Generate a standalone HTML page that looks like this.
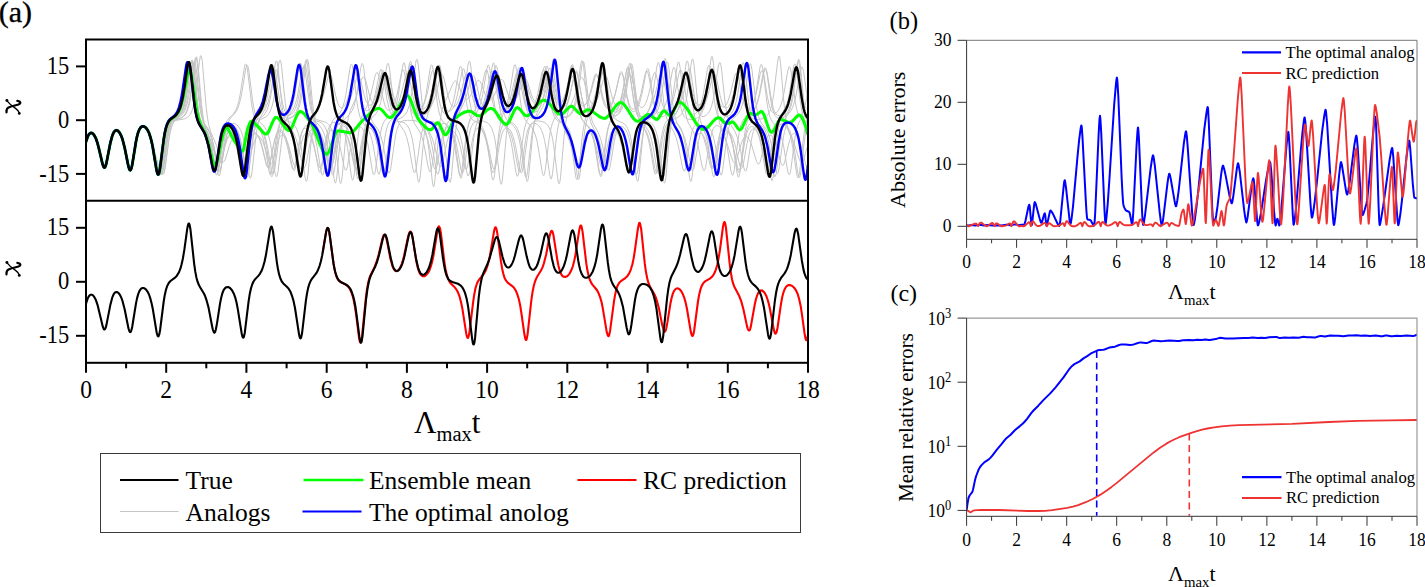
<!DOCTYPE html><html><head><meta charset="utf-8"><style>html,body{margin:0;padding:0;background:#fff;}svg{display:block;}text{font-family:"Liberation Serif",serif;fill:#000;}</style></head><body>
<svg width="1425" height="587" viewBox="0 0 1425 587">
<rect width="1425" height="587" fill="#fff"/>
<text x="-1.2" y="21.7" font-size="30" stroke="#000" stroke-width="0.35">(a)</text>
<defs><clipPath id="ct"><rect x="87" y="40.5" width="720" height="159"/></clipPath><clipPath id="cb"><rect x="87" y="201.4" width="720" height="160.4"/></clipPath></defs>
<g clip-path="url(#ct)" fill="none" stroke-linejoin="round">
<path d="M86.0,142.0 87.8,136.5 88.7,134.8 89.8,133.5 90.7,132.9 91.8,133.0 92.9,133.6 94.0,134.9 95.9,138.3 97.7,143.7 102.8,164.8 103.7,167.0 104.2,167.6 104.6,167.6 105.5,166.3 106.4,163.3 110.3,143.3 112.3,135.7 113.6,132.7 114.8,131.0 116.3,130.3 117.8,130.7 119.0,131.9 120.1,133.5 121.4,136.2 122.5,139.2 124.7,147.7 128.5,166.6 129.4,169.4 130.0,170.1 130.3,170.2 131.3,168.7 132.2,165.2 136.0,141.7 138.2,132.4 139.5,129.2 140.9,127.2 142.6,126.3 144.2,126.6 145.9,127.7 147.5,129.9 149.0,132.8 150.2,136.4 152.8,146.7 157.2,170.1 158.3,173.7 158.8,174.4 159.4,174.4 160.3,172.4 161.2,168.3 165.6,137.4 166.7,131.2 168.1,126.1 169.6,122.9 171.2,120.8 172.9,119.6 177.8,117.1 180.4,114.8 182.5,111.2 184.4,106.2 185.8,100.2 187.1,93.0 190.9,64.2 191.7,60.9 192.2,59.9 192.6,60.1 192.9,61.1 193.9,66.3 197.5,102.9 198.6,111.3 199.9,118.4 201.0,122.6 202.1,125.7 206.6,134.8 208.8,140.5 210.8,147.8 214.3,163.1 215.8,167.1 216.3,167.7 216.8,167.5 217.4,166.7 218.1,164.6 222.3,143.1 224.3,135.4 225.2,133.2 226.3,131.4 227.4,130.4 228.7,130.2 230.0,130.7 231.4,132.3 232.9,134.8 234.2,138.0 236.6,146.8 240.6,166.7 241.7,169.8 242.2,170.3 242.6,170.2 243.3,168.9 244.2,165.3 247.9,142.7 249.9,133.5 251.2,129.9 252.4,127.6 253.9,126.3 255.5,126.1 257.5,127.1 259.4,129.2 261.0,132.2 262.5,136.2 263.8,141.0 265.0,147.2 268.9,170.5 269.8,174.0 270.1,174.6 270.5,174.8 271.2,173.6 272.1,169.5 276.0,139.6 277.1,133.0 278.2,128.0 279.4,124.0 280.9,121.1 282.5,119.0 286.6,115.8 288.4,113.9 290.2,111.0 291.9,107.0 293.3,101.9 294.8,94.9 299.0,66.9 299.7,63.9 300.1,63.1 300.4,62.8 301.2,64.1 302.1,69.0 305.7,101.4 306.8,108.9 308.1,115.4 309.2,119.2 310.5,122.3 315.9,130.9 317.2,133.6 318.5,137.0 320.7,145.5 324.5,166.3 325.3,169.4 326.0,171.5 326.5,172.0 327.1,171.7 328.2,168.2 332.4,140.2 333.5,134.6 334.7,129.7 336.0,126.6 337.7,124.3 339.5,123.2 341.7,123.2 344.2,124.3 346.4,126.5 348.4,130.0 350.1,134.6 351.5,140.5 352.8,147.4 356.6,174.8 357.4,178.0 357.9,178.9 358.3,178.8 358.6,178.0 359.6,173.3 363.2,138.8 364.3,130.7 365.6,123.7 366.7,119.6 367.8,116.6 372.9,107.3 375.3,101.2 377.4,92.9 380.9,75.8 382.2,71.5 382.9,70.6 383.5,70.8 384.0,71.8 384.7,74.3 388.8,97.9 391.0,107.1 392.0,110.0 393.3,112.0 394.6,113.0 396.1,113.2 397.9,112.2 399.5,110.3 401.2,107.2 402.6,103.1 405.0,93.2 408.8,70.9 409.7,67.6 410.5,66.7 411.2,67.6 412.1,71.3 416.5,102.8 418.0,110.0 419.4,114.6 420.9,117.5 422.7,119.4 424.5,120.4 429.8,122.4 431.5,123.4 432.7,124.5 434.0,126.0 435.1,127.9 437.1,133.0 438.4,137.9 439.7,144.7 443.7,176.2 444.4,180.2 445.2,181.9 445.5,181.6 445.9,180.6 446.8,174.9 450.4,135.9 451.5,127.3 452.8,120.0 453.9,115.6 455.0,112.4 459.0,103.9 460.8,99.2 462.7,93.3 466.5,78.4 467.6,75.7 468.5,74.7 469.1,74.9 469.6,75.6 470.7,78.6 474.5,96.0 476.4,102.3 477.3,104.4 478.4,106.2 479.3,107.0 480.4,107.2 481.5,106.9 482.7,105.7 484.0,103.6 485.1,101.2 487.5,93.5 491.7,75.8 492.8,73.2 493.3,72.8 493.9,73.1 494.6,74.4 495.5,77.6 499.2,96.6 501.0,103.8 502.1,106.6 503.2,108.5 504.3,109.5 505.6,109.8 506.8,109.3 508.3,107.8 509.8,105.2 511.0,102.1 513.4,93.4 517.4,73.8 518.5,70.8 519.1,70.3 519.4,70.4 520.2,71.7 521.1,75.2 524.7,97.5 526.7,106.5 527.8,109.7 529.1,112.0 530.6,113.4 532.0,113.7 533.8,113.0 535.7,111.0 537.3,108.1 538.8,104.3 540.1,99.7 541.3,93.8 545.3,70.1 546.3,66.9 546.8,66.1 547.2,66.2 547.9,67.9 548.6,71.4 552.5,100.4 553.6,106.8 554.8,112.3 556.1,116.0 557.8,118.9 559.6,120.7 564.0,123.4 566.1,125.3 568.2,128.2 570.0,132.4 571.4,137.5 572.7,143.6 574.2,152.8 577.1,174.6 577.8,178.0 578.6,179.3 578.9,179.0 579.3,178.0 580.2,172.8 583.9,137.7 584.9,129.7 586.2,122.9 587.3,118.9 588.4,115.9 593.2,107.1 595.5,101.1 597.7,93.0 601.4,75.6 602.3,72.5 603.2,71.1 603.7,71.3 604.1,71.8 605.2,75.3 609.0,97.3 611.0,105.9 612.1,108.8 613.2,110.8 614.5,112.1 616.0,112.4 617.6,111.7 619.3,109.9 620.7,107.4 622.2,103.6 623.5,99.2 624.7,93.5 628.7,71.3 629.7,68.3 630.2,67.6 630.6,67.7 631.3,69.1 632.2,73.2 636.0,100.3 637.3,107.0 638.6,111.7 640.2,115.5 642.1,117.6 643.2,118.3 644.4,118.7 647.5,118.5 650.6,117.3 653.2,115.1 655.2,111.9 657.0,107.1 658.5,101.3 660.0,92.9 663.8,62.6 664.5,59.2 664.9,58.5 665.2,58.5 666.0,60.8 666.7,65.9 670.4,104.8 671.4,113.4 672.7,120.5 673.8,124.8 674.9,128.0 678.9,136.5 680.8,141.2 682.6,147.2 686.4,162.0 687.5,164.8 688.4,165.6 689.0,165.4 689.5,164.7 690.6,161.6 694.4,144.1 696.3,137.9 697.2,135.7 698.3,134.1 699.2,133.3 700.3,133.0 701.4,133.4 702.7,134.7 703.9,136.7 705.0,139.2 707.2,146.2 711.6,164.6 712.7,167.1 713.2,167.5 713.8,167.3 714.5,165.9 715.4,162.6 719.1,143.6 720.9,136.4 722.0,133.6 723.1,131.7 724.2,130.7 725.5,130.4 726.7,130.9 728.2,132.5 729.7,135.0 730.9,138.2 733.3,146.9 737.3,166.6 738.4,169.6 739.0,170.1 739.3,170.0 740.1,168.6 741.0,165.1 744.6,142.7 746.6,133.7 747.7,130.5 749.0,128.2 750.5,126.8 751.9,126.5 753.8,127.2 755.6,129.1 757.2,132.0 758.9,136.4 760.1,141.0 761.4,147.1 765.4,170.9 766.3,173.8 766.7,174.3 767.1,174.2 767.8,172.7 768.7,168.3 772.4,140.2 773.5,133.7 774.7,128.0 776.0,124.3 777.7,121.3 779.3,119.6 783.9,116.6 785.9,114.7 787.9,111.7 789.5,107.9 791.0,102.9 792.3,96.8 793.7,87.7 796.6,66.3 797.4,62.8 798.1,61.4 798.5,61.6 799.0,63.2 799.9,68.7 803.0,98.7 804.5,109.9 806.1,118.2 808.0,123.8" stroke="#c4c4c4" stroke-width="1"/>
<path d="M86.0,142.0 87.8,136.5 88.7,134.8 89.8,133.5 90.7,132.9 91.8,133.0 92.9,133.6 94.0,134.9 95.9,138.3 97.7,143.7 102.8,164.8 103.7,167.0 104.2,167.6 104.6,167.6 105.5,166.3 106.4,163.3 110.3,143.3 112.3,135.7 113.6,132.7 114.8,131.0 116.3,130.3 117.8,130.7 119.0,131.9 120.1,133.5 121.4,136.2 122.5,139.2 124.7,147.7 128.5,166.6 129.4,169.4 130.0,170.1 130.3,170.2 131.3,168.7 132.2,165.2 136.0,141.7 138.2,132.4 139.5,129.2 140.9,127.2 142.6,126.3 144.2,126.6 145.7,127.6 147.1,129.3 148.4,131.6 149.7,134.7 152.4,144.4 158.3,169.6 159.9,173.8 160.6,174.5 161.2,174.4 162.3,172.4 163.4,167.9 167.9,136.3 169.4,129.6 171.0,125.0 172.7,122.4 174.9,120.8 177.1,120.2 183.8,119.0 185.8,118.3 187.5,117.3 189.1,115.8 190.4,114.1 191.5,112.0 192.6,109.1 194.0,103.6 195.3,96.7 196.8,85.9 199.5,61.2 200.2,56.9 200.6,55.8 201.0,55.6 201.5,56.8 202.3,61.5 206.1,106.4 207.4,117.0 208.6,124.4 210.6,131.6 215.9,144.0 220.7,158.2 222.0,160.9 222.7,161.8 223.2,162.0 223.8,161.8 224.3,161.3 225.4,159.1 229.4,145.7 231.1,141.4 232.9,138.5 233.8,137.9 234.7,137.7 235.6,138.0 236.6,138.8 238.6,141.9 240.6,146.9 245.0,160.5 246.2,162.7 246.8,163.0 247.3,162.9 248.2,161.8 249.3,159.0 252.8,146.0 254.6,140.6 256.5,137.4 257.4,136.7 258.5,136.4 259.4,136.7 260.5,137.7 262.5,141.0 264.7,147.0 268.9,161.4 270.0,163.7 270.5,164.2 271.1,164.2 272.0,163.2 273.1,160.3 276.7,145.3 278.5,139.4 280.4,136.0 281.3,135.2 282.4,134.8 283.5,135.2 284.6,136.2 285.8,138.1 286.9,140.5 289.1,147.1 293.1,162.5 294.2,165.1 294.8,165.7 295.3,165.7 296.2,164.6 297.3,161.3 300.8,145.2 302.6,138.5 303.5,136.2 304.6,134.2 305.7,133.2 306.8,132.8 308.1,133.3 309.4,134.6 310.7,136.7 311.7,139.2 313.9,146.3 318.1,164.3 319.2,167.1 319.8,167.6 320.1,167.6 321.1,166.3 322.0,163.3 325.6,144.1 327.4,136.7 328.5,133.7 329.6,131.7 330.7,130.6 332.0,130.2 333.5,130.7 334.9,132.2 336.4,134.8 337.7,138.0 340.0,146.7 344.0,166.6 345.0,169.4 345.5,170.2 345.9,170.3 346.2,170.1 346.8,169.0 347.7,165.4 351.3,142.8 353.4,133.6 354.6,129.9 355.9,127.7 357.4,126.4 358.8,126.1 359.7,126.3 360.8,127.0 362.7,128.9 364.3,131.9 365.9,136.3 367.2,141.1 368.5,147.2 372.3,170.6 373.2,173.9 373.6,174.6 374.0,174.7 374.7,173.6 375.6,169.4 379.5,139.6 380.5,133.0 381.6,128.0 382.9,124.0 384.4,121.1 386.0,119.1 390.2,115.7 392.0,113.8 393.9,110.8 395.5,106.8 396.8,102.4 398.1,96.5 402.3,68.4 403.2,64.0 403.9,62.7 404.3,62.9 404.6,63.7 405.6,68.2 409.4,102.2 410.5,109.6 411.6,115.1 412.7,119.1 413.9,122.3 415.2,124.6 419.4,131.0 420.9,134.2 422.2,137.8 424.2,145.6 427.8,165.3 429.3,170.9 429.8,171.8 430.4,171.7 430.9,170.7 431.6,168.0 435.8,140.3 436.9,134.7 438.2,129.9 439.7,126.5 441.1,124.5 443.0,123.5 445.0,123.6 447.3,124.8 449.5,127.1 451.4,130.4 453.0,135.0 454.3,140.1 455.6,146.8 459.4,173.6 460.1,177.0 460.8,178.3 461.2,178.1 461.6,177.2 462.5,172.4 466.1,138.8 467.2,130.9 468.5,124.2 469.6,120.2 470.7,117.3 472.0,114.8 476.0,108.2 478.5,101.8 480.7,93.2 484.4,74.5 485.7,70.3 486.2,69.7 486.8,69.8 487.3,70.9 488.0,73.5 492.2,99.5 493.3,104.7 494.4,108.7 495.5,111.5 496.8,113.5 498.3,114.6 499.9,114.8 501.9,113.8 503.9,111.5 505.6,108.4 507.2,103.7 509.6,93.2 513.4,69.2 514.1,66.2 514.9,64.8 515.2,64.9 515.8,66.1 516.7,70.4 520.3,100.1 521.4,107.1 522.7,113.1 524.0,117.2 525.3,119.9 526.7,122.0 530.4,125.6 532.0,127.7 533.8,131.0 535.3,134.8 536.8,140.0 538.0,146.2 542.1,171.6 542.8,174.6 543.5,175.8 543.9,175.6 544.4,174.4 545.3,169.8 549.0,139.7 550.1,132.7 551.4,126.6 552.6,122.5 553.9,119.8 555.4,117.7 558.7,114.2 560.3,112.1 562.0,109.0 563.4,105.2 564.9,100.0 566.1,93.9 570.2,69.3 570.9,66.4 571.6,65.2 572.0,65.3 572.5,66.5 573.4,70.9 577.1,100.1 578.2,106.9 579.5,112.8 580.7,116.8 582.0,119.5 583.7,121.6 587.5,125.1 589.3,127.2 591.2,130.4 592.6,134.1 594.1,139.4 595.5,146.5 599.5,172.7 600.3,175.7 600.6,176.4 601.0,176.7 601.7,175.5 602.6,170.9 606.3,139.6 607.4,132.2 608.7,125.9 609.8,122.2 611.0,119.1 612.3,117.0 617.1,110.5 618.5,107.6 619.8,104.2 621.1,99.6 622.4,93.9 626.4,70.9 627.1,68.2 627.8,66.9 628.2,66.9 628.6,67.4 629.5,70.7 634.0,102.9 635.5,109.9 637.1,114.9 638.8,117.8 640.6,119.4 642.6,120.3 648.6,121.9 650.3,122.8 651.7,123.9 653.0,125.3 654.3,127.2 656.3,132.1 657.8,137.8 659.0,144.8 663.1,177.5 663.8,181.6 664.1,182.8 664.5,183.2 664.9,182.7 665.2,181.5 666.0,176.7 669.6,136.0 670.9,125.5 672.2,118.2 673.3,113.8 674.4,110.5 678.4,101.6 680.2,96.8 685.3,79.5 686.2,77.4 687.1,76.4 687.7,76.4 688.2,76.8 689.5,79.7 693.3,95.0 695.2,100.7 697.0,104.0 697.9,104.8 699.0,105.1 699.9,104.8 701.0,103.9 702.1,102.4 703.2,100.2 705.4,94.0 709.8,77.7 711.1,75.1 711.6,74.8 712.1,75.1 713.1,76.7 714.0,79.7 717.4,95.5 719.3,101.9 720.2,104.1 721.3,105.8 722.4,106.8 723.5,107.0 724.6,106.6 725.8,105.3 727.1,103.1 728.2,100.6 730.4,93.5 734.6,76.0 735.7,73.5 736.2,73.0 736.6,73.1 737.5,74.5 738.4,77.6 742.1,96.3 743.9,103.5 745.0,106.3 746.1,108.2 747.2,109.2 748.5,109.5 749.7,109.0 751.2,107.4 752.5,105.2 753.8,102.1 756.1,93.7 760.1,74.4 761.2,71.2 761.8,70.6 762.1,70.6 763.1,72.3 764.0,75.9 767.4,96.8 769.4,105.9 770.5,109.1 771.8,111.5 773.3,112.9 774.7,113.2 776.6,112.4 778.2,110.6 779.9,107.7 781.3,103.8 782.6,99.2 783.9,93.3 787.9,70.2 788.8,67.3 789.2,66.8 789.5,66.7 790.3,68.0 791.2,72.1 795.2,101.5 796.5,108.3 797.7,113.1 799.4,116.9 801.2,119.1 803.2,120.4 808.0,122.1" stroke="#c4c4c4" stroke-width="1"/>
<path d="M86.0,142.0 87.8,136.5 88.7,134.8 89.8,133.5 90.7,132.9 91.8,133.0 92.9,133.6 94.0,134.9 95.9,138.3 97.7,143.7 102.8,164.8 103.7,167.0 104.2,167.6 104.6,167.6 105.5,166.3 106.4,163.3 110.3,143.3 112.3,135.7 113.6,132.7 114.8,131.0 116.3,130.3 117.8,130.7 119.0,131.9 120.1,133.5 121.4,136.2 122.5,139.2 124.7,147.7 128.5,166.6 129.4,169.4 130.0,170.1 130.3,170.2 131.3,168.7 132.2,165.2 136.0,141.7 138.2,132.4 139.5,129.2 140.9,127.2 142.6,126.3 144.2,126.6 145.5,127.4 146.8,128.8 148.0,130.9 149.1,133.3 151.2,139.4 156.4,159.0 159.2,168.1 161.4,173.4 162.3,174.4 163.0,174.4 163.6,173.7 164.1,172.3 165.0,168.4 169.0,138.8 170.1,132.4 171.2,127.7 172.5,123.8 174.0,121.0 175.6,119.1 179.6,115.9 181.6,113.8 183.5,110.9 185.1,106.9 186.6,101.8 188.0,94.7 192.2,66.5 192.9,63.6 193.3,62.8 193.7,62.7 194.4,64.2 195.3,69.2 199.0,101.9 200.1,109.4 201.2,115.0 202.3,119.0 203.5,122.3 204.8,124.6 209.0,131.0 210.5,134.1 211.7,137.7 214.1,147.3 217.8,167.0 219.0,171.2 219.6,171.8 220.1,171.4 221.2,168.0 225.4,140.4 226.5,134.8 227.8,130.0 229.1,126.9 230.5,124.8 232.4,123.6 234.4,123.6 235.6,124.1 236.9,124.9 239.1,127.3 240.9,130.7 242.6,135.4 243.9,140.5 245.1,147.4 249.0,174.0 249.7,177.2 250.1,178.0 250.4,178.2 251.2,176.8 252.1,171.8 255.7,138.2 256.8,130.5 257.9,124.8 259.0,120.7 260.3,117.3 265.6,108.3 268.1,101.9 270.3,93.3 274.0,74.4 275.2,70.2 275.8,69.5 276.3,69.7 276.9,70.7 277.6,73.4 281.8,99.6 282.9,104.9 284.0,108.9 285.3,112.0 286.6,113.9 288.0,114.9 289.7,115.0 291.7,114.0 293.7,111.7 295.3,108.7 297.0,104.1 298.2,99.1 299.5,92.7 303.4,68.3 304.1,65.5 304.8,64.5 305.2,64.7 305.5,65.5 306.5,69.8 310.3,101.2 311.4,108.1 312.5,113.3 313.8,117.5 315.0,120.3 316.5,122.5 320.0,126.3 321.4,128.2 323.1,131.2 324.5,134.9 326.0,140.1 327.3,146.1 331.5,171.6 332.2,174.2 332.6,174.9 332.9,175.0 333.6,173.9 334.6,169.7 338.4,139.4 339.5,132.8 340.6,127.8 341.9,123.7 343.3,120.7 345.0,118.6 348.6,115.4 350.4,113.4 352.3,110.4 353.9,106.3 355.4,101.0 356.8,93.8 360.8,67.5 361.6,64.5 361.9,63.7 362.3,63.5 363.0,64.7 363.9,69.3 367.6,100.8 368.7,108.2 370.0,114.5 371.1,118.3 372.3,121.4 373.6,123.6 378.2,129.9 379.6,132.8 381.1,136.8 383.3,145.5 387.1,167.4 387.8,170.6 388.6,172.7 389.1,173.1 389.5,172.9 390.6,169.5 395.5,135.8 397.2,128.8 399.0,124.3 400.1,122.7 401.2,121.8 402.6,121.0 404.3,120.6 407.4,120.3 411.8,120.4 415.0,120.8 417.6,121.3 420.5,122.8 421.8,124.0 422.9,125.4 424.7,129.0 426.4,134.4 427.6,140.7 428.9,149.5 432.4,182.0 433.1,186.0 433.7,186.8 434.2,185.5 434.9,180.4 438.8,132.2 440.0,121.0 441.3,113.3 442.6,108.1 444.2,103.5 448.1,95.1 452.5,84.5 453.7,82.2 454.8,81.1 455.6,80.9 456.1,81.2 457.6,83.0 461.8,93.5 463.6,97.1 465.0,98.8 465.8,99.3 466.7,99.4 468.3,98.7 470.0,96.7 472.0,92.9 476.5,82.0 477.8,80.4 478.5,80.2 479.1,80.4 480.0,81.3 481.1,83.4 484.8,93.6 486.4,97.2 488.0,99.5 489.0,100.1 489.9,100.2 491.5,99.5 493.3,97.1 495.3,92.9 499.7,81.6 501.0,79.8 501.5,79.5 502.1,79.5 503.2,80.6 504.3,82.8 507.9,93.8 509.6,97.8 511.2,100.2 512.1,100.9 513.0,101.2 514.0,100.9 514.9,100.3 516.7,97.8 518.7,93.3 523.1,81.1 524.4,79.0 524.9,78.6 525.5,78.6 526.4,79.5 527.5,81.7 531.3,94.2 532.9,98.5 534.8,101.4 535.7,102.0 536.6,102.2 537.5,101.9 538.4,101.2 540.4,98.2 542.4,93.3 546.6,80.4 547.7,78.3 548.3,77.8 548.8,77.6 549.4,77.9 549.9,78.5 551.0,81.0 554.8,94.7 556.5,99.4 558.3,102.5 559.2,103.2 560.1,103.4 561.0,103.2 562.1,102.3 563.2,100.9 564.3,98.8 566.3,93.4 570.5,79.4 571.6,77.1 572.2,76.6 572.7,76.4 573.6,77.3 574.7,80.0 578.6,95.1 580.2,100.3 582.0,103.7 582.9,104.6 584.0,104.9 585.1,104.6 586.2,103.6 587.3,102.0 588.4,99.8 590.6,93.5 594.8,78.0 595.9,75.6 596.8,75.0 597.7,75.9 598.8,78.9 602.6,95.8 604.5,102.0 605.4,104.1 606.5,105.7 607.4,106.5 608.5,106.8 609.6,106.3 610.9,105.1 612.1,103.0 613.2,100.5 615.4,93.4 619.4,76.8 620.5,74.0 621.1,73.4 621.4,73.3 622.4,74.3 623.5,77.8 627.1,96.2 628.9,103.2 629.8,105.7 630.9,107.6 632.0,108.8 633.3,109.2 634.6,108.7 636.0,107.2 637.5,104.7 638.8,101.5 641.0,93.7 645.0,74.7 645.9,72.0 646.4,71.1 646.8,70.9 647.2,71.1 647.7,72.0 648.8,76.0 652.5,97.4 654.5,106.0 655.6,109.0 656.7,111.0 657.9,112.3 659.4,112.7 661.0,112.0 662.7,110.3 664.3,107.4 665.8,103.7 667.1,99.2 668.3,93.4 672.4,70.9 673.3,68.0 673.6,67.4 674.0,67.3 674.7,68.4 675.6,72.2 679.7,100.7 680.9,107.4 682.4,112.7 684.0,116.2 685.0,117.4 686.0,118.4 688.6,119.3 692.1,119.4 694.3,119.0 696.3,118.4 697.9,117.6 699.4,116.4 700.6,115.0 701.7,113.3 703.8,108.4 705.2,102.6 706.5,95.5 710.5,61.9 711.2,57.7 711.6,56.6 712.0,56.3 712.3,56.8 712.7,58.2 713.4,63.3 717.1,105.4 718.2,114.7 719.4,122.5 721.5,130.1 726.7,142.4 731.9,158.5 732.8,160.8 733.7,162.4 734.4,162.9 735.0,162.8 735.7,161.9 736.4,160.4 740.8,144.8 742.6,139.9 744.3,137.4 745.2,136.7 746.1,136.6 747.0,136.9 747.9,137.7 749.9,140.9 752.1,146.6 756.5,161.5 757.8,163.8 758.3,164.1 758.9,163.9 759.8,162.6 760.7,160.0 764.3,145.2 766.0,139.9 766.9,137.8 768.0,136.1 768.9,135.3 770.0,135.1 771.1,135.5 772.2,136.5 773.3,138.1 774.4,140.4 776.6,146.9 780.8,162.6 781.9,165.0 782.4,165.5 783.0,165.5 783.9,164.1 784.8,161.4 788.4,144.8 790.3,138.4 791.2,136.1 792.3,134.3 793.4,133.4 794.5,133.1 795.5,133.6 796.8,134.8 799.0,139.0 801.4,146.5 805.8,164.8 806.9,167.1 807.4,167.4 808.0,167.1" stroke="#c4c4c4" stroke-width="1"/>
<path d="M86.0,142.0 87.8,136.5 88.7,134.8 89.8,133.5 90.7,132.9 91.8,133.0 92.9,133.6 94.0,134.9 95.9,138.3 97.7,143.7 102.8,164.8 103.7,167.0 104.2,167.6 104.6,167.6 105.5,166.3 106.4,163.3 110.3,143.3 112.3,135.7 113.6,132.7 114.8,131.0 116.3,130.3 117.8,130.7 119.0,131.9 120.1,133.5 121.4,136.2 122.5,139.2 124.7,147.7 128.5,166.6 129.4,169.4 130.0,170.1 130.3,170.2 131.3,168.7 132.2,165.2 136.0,141.7 138.2,132.4 139.5,129.2 140.9,127.2 142.6,126.3 144.2,126.6 145.9,127.7 147.3,129.6 148.6,132.0 149.9,135.3 152.6,145.6 157.7,170.5 159.0,173.9 159.5,174.5 160.1,174.4 161.2,172.0 162.3,166.9 166.1,139.7 167.4,132.4 168.5,127.8 169.8,124.1 171.2,121.4 173.1,119.4 177.4,116.5 179.4,114.6 181.4,111.5 183.1,107.7 184.5,102.6 185.8,96.5 190.0,67.2 190.9,62.8 191.3,61.9 191.7,61.5 192.0,61.8 192.4,62.8 193.3,67.8 197.0,102.1 198.1,110.0 199.3,116.7 200.4,120.7 201.5,123.7 206.6,132.8 209.0,138.8 210.8,145.6 214.5,163.6 215.9,168.9 216.7,170.0 217.2,169.8 217.8,168.9 218.5,166.4 222.7,141.4 223.8,136.3 224.9,132.4 226.0,129.7 227.3,127.7 228.5,126.8 230.0,126.6 231.8,127.6 233.5,129.4 235.1,132.4 236.6,136.3 237.8,141.0 239.1,147.0 243.1,170.6 244.0,173.6 244.4,174.1 244.8,174.1 245.5,172.7 246.4,168.3 250.1,140.5 251.2,134.0 252.4,128.3 253.7,124.5 255.4,121.5 257.2,119.7 261.7,117.0 263.9,115.1 265.9,112.2 267.8,108.1 269.2,103.1 270.5,97.0 272.0,87.8 274.9,65.9 275.6,62.3 276.3,60.9 276.7,61.1 277.1,62.0 278.0,67.0 281.6,102.3 282.7,110.4 284.0,117.3 285.1,121.5 286.2,124.5 291.1,133.7 293.3,139.4 295.5,147.6 299.2,164.7 299.9,167.2 300.6,168.7 301.2,169.0 301.7,168.6 302.8,165.5 307.0,142.0 309.0,134.0 310.1,131.2 311.2,129.5 312.5,128.4 313.8,128.2 315.4,129.0 316.9,130.6 318.3,133.2 319.8,136.9 321.1,141.4 322.3,147.0 326.3,168.9 327.3,171.7 327.8,172.4 328.2,172.3 328.9,170.8 329.8,166.7 333.6,140.1 334.7,134.3 336.0,129.4 337.5,125.8 339.1,123.6 341.1,122.5 343.7,122.5 345.1,122.9 346.6,123.7 349.0,126.0 351.0,129.4 352.6,133.9 354.1,139.8 355.4,146.8 359.4,176.6 360.1,179.6 360.7,180.2 361.0,179.8 361.4,178.7 362.1,174.5 365.8,138.2 366.9,129.7 368.1,122.5 369.2,118.1 370.3,115.0 375.1,105.6 377.1,100.4 379.1,93.2 382.7,77.0 384.2,72.9 384.7,72.4 385.3,72.6 385.8,73.5 386.6,75.6 390.8,97.5 392.8,105.2 393.7,107.4 394.8,109.2 395.9,110.2 397.2,110.4 398.4,109.9 399.9,108.4 401.4,105.9 402.6,102.7 405.0,94.1 409.2,73.1 410.3,70.1 410.8,69.6 411.2,69.8 411.9,71.4 412.9,75.2 416.5,98.3 418.5,107.4 419.8,111.0 421.1,113.2 422.5,114.4 424.2,114.7 426.2,113.8 428.2,111.7 429.8,108.7 431.5,104.2 432.7,99.3 434.0,93.0 437.9,69.1 438.8,65.7 439.1,65.0 439.5,64.9 440.2,66.2 441.1,70.7 444.8,100.2 445.9,107.2 447.2,113.2 448.4,117.2 449.7,119.9 451.4,122.1 454.8,125.5 456.5,127.5 458.3,130.7 459.8,134.4 461.2,139.6 462.5,145.7 466.7,172.1 467.4,175.0 468.1,176.0 468.9,174.8 469.8,170.5 473.6,138.9 474.7,132.0 475.8,126.8 477.1,122.6 478.4,119.8 479.8,117.6 483.1,113.9 484.8,111.7 486.2,109.0 487.7,105.2 489.1,100.0 490.4,94.0 494.4,69.7 495.3,66.3 495.7,65.7 496.1,65.5 496.8,66.7 497.7,70.9 501.5,100.8 502.6,107.4 503.7,112.3 505.0,116.3 506.5,119.2 508.1,121.2 512.1,124.5 514.0,126.4 515.8,129.2 517.4,133.2 519.1,138.9 520.5,146.2 524.5,173.3 525.3,176.4 526.0,177.5 526.4,177.3 526.7,176.4 527.6,171.6 531.3,139.1 532.4,131.5 533.7,125.0 534.8,121.1 536.0,117.9 541.5,109.3 542.8,106.6 544.1,103.2 546.3,94.7 550.1,74.0 550.8,70.9 551.5,68.9 552.1,68.4 552.6,68.7 553.7,72.3 557.9,100.1 559.0,105.7 560.3,110.5 561.8,114.0 563.2,115.9 565.1,117.0 567.1,117.0 569.6,115.8 571.8,113.5 573.8,109.9 575.5,105.2 576.7,100.0 578.0,93.2 581.8,66.0 582.6,62.8 582.9,61.9 583.3,61.6 583.7,62.0 584.0,63.0 584.9,68.1 588.6,102.3 589.7,110.1 590.8,115.9 591.9,120.1 593.2,123.6 598.3,132.6 600.6,138.6 602.8,146.9 606.5,165.2 607.8,169.4 608.3,170.1 608.9,170.0 609.4,169.1 610.1,166.7 614.3,141.5 615.4,136.3 616.5,132.4 617.6,129.6 618.9,127.6 620.3,126.5 621.8,126.4 623.6,127.3 625.5,129.5 627.1,132.6 628.6,136.6 630.9,146.6 634.9,170.6 635.9,173.8 636.2,174.4 636.6,174.4 637.3,173.1 638.2,168.8 641.9,140.6 643.0,133.9 644.3,128.2 645.5,124.2 647.2,121.2 648.8,119.4 653.0,116.4 655.0,114.5 657.0,111.5 658.7,107.6 660.1,102.5 661.4,96.5 665.6,67.6 666.5,63.1 667.3,61.9 667.6,62.1 668.0,63.0 668.9,67.9 672.5,101.7 673.6,109.6 674.9,116.2 676.0,120.3 677.1,123.2 682.4,132.3 684.8,138.3 686.8,145.9 690.4,164.4 691.9,169.7 692.4,170.4 693.0,170.4 693.5,169.5 694.3,167.1 698.5,141.4 699.6,136.1 700.6,132.1 701.7,129.2 703.0,127.2 704.5,126.0 706.1,125.8 708.1,126.9 710.0,129.0 711.6,132.0 713.1,136.0 714.3,140.8 715.6,147.0 719.4,170.7 720.4,174.2 720.7,174.9 721.1,175.1 721.8,174.0 722.7,169.8 726.6,139.5 727.7,132.8 728.8,127.7 730.0,123.6 731.5,120.6 732.9,118.7 736.8,115.2 738.6,113.1 740.4,109.9 741.9,106.2 743.4,101.0 744.8,93.9 748.8,67.7 749.6,64.8 750.3,63.7 750.7,64.0 751.0,64.8 751.9,69.3 755.8,101.8 756.9,108.9 758.0,114.2 759.0,118.0 760.3,121.1 761.8,123.5 766.3,129.5 767.8,132.4 769.1,135.8 770.4,140.2 771.6,145.9 775.8,169.9 776.6,172.5 777.3,173.5 777.7,173.4 778.0,172.8 778.9,169.3 783.3,137.9 784.6,131.4 786.1,126.4 787.5,123.3 789.3,121.2 791.3,120.0 795.9,118.6 798.1,117.5 800.1,116.0 801.9,113.6 803.8,109.8 805.2,105.1 806.7,98.2 808.0,89.9" stroke="#c4c4c4" stroke-width="1"/>
<path d="M86.0,142.0 87.8,136.5 88.7,134.8 89.8,133.5 90.7,132.9 91.8,133.0 92.9,133.6 94.0,134.9 95.9,138.3 97.7,143.7 102.8,164.8 103.7,167.0 104.2,167.6 104.6,167.6 105.5,166.3 106.4,163.3 110.3,143.3 112.3,135.7 113.6,132.7 114.8,131.0 116.3,130.3 117.8,130.7 119.0,131.9 120.1,133.5 121.4,136.2 122.5,139.2 124.7,147.7 128.5,166.6 129.4,169.4 130.0,170.1 130.3,170.2 131.3,168.7 132.2,165.2 136.0,141.7 138.2,132.4 139.5,129.2 140.9,127.2 142.6,126.3 144.2,126.6 145.9,127.7 147.5,129.9 149.0,132.8 150.2,136.4 152.8,146.7 157.2,170.1 158.3,173.6 158.8,174.4 159.4,174.4 160.3,172.6 161.4,167.5 166.1,134.5 166.3,135.0 167.6,129.4 168.9,125.5 170.5,122.6 172.3,120.9 174.3,120.0 180.0,118.3 181.6,117.5 183.1,116.4 184.4,114.9 185.6,113.0 187.7,108.0 188.9,103.2 190.2,96.5 191.7,86.2 194.4,62.9 195.1,58.9 195.5,57.8 195.9,57.4 196.2,57.9 196.6,59.1 197.3,63.9 201.0,104.2 202.3,114.6 203.5,121.8 204.6,126.2 205.7,129.4 209.7,138.2 211.4,142.5 216.5,160.2 217.4,162.7 218.3,164.1 219.0,164.3 219.6,163.9 220.9,161.1 224.9,144.7 226.7,139.0 228.5,135.7 229.4,135.0 230.5,134.7 231.6,135.1 232.7,136.2 233.8,137.9 234.9,140.2 237.1,146.7 241.3,162.8 242.6,165.6 243.1,165.9 243.7,165.7 244.6,164.0 245.5,161.0 249.0,144.7 250.8,138.1 251.7,135.8 252.8,134.0 253.9,132.9 255.0,132.7 256.3,133.2 257.5,134.5 258.8,136.7 259.9,139.2 262.1,146.4 266.3,164.5 267.4,167.3 267.9,167.8 268.3,167.8 269.2,166.4 270.1,163.3 273.8,143.8 275.6,136.4 276.7,133.4 277.8,131.4 279.1,130.2 280.4,129.9 281.8,130.6 283.3,132.2 284.7,134.8 286.0,138.1 288.4,147.1 292.4,167.2 293.3,169.9 293.9,170.5 294.2,170.5 295.1,168.9 296.1,165.1 299.7,142.0 301.7,133.0 303.0,129.4 304.3,127.2 305.7,125.9 307.4,125.7 309.4,126.6 311.4,128.8 313.0,131.9 314.7,136.4 317.0,146.7 321.1,171.5 321.8,174.3 322.5,175.3 322.9,175.0 323.2,174.3 324.2,170.2 328.0,139.6 329.1,132.8 330.2,127.7 331.5,123.5 332.9,120.4 334.4,118.5 338.2,114.8 339.9,112.8 341.7,109.6 343.1,105.9 344.6,100.6 345.9,94.4 349.9,68.6 350.6,65.5 351.3,64.1 351.7,64.2 352.3,65.4 353.2,70.0 356.8,100.7 357.9,107.9 359.2,114.0 360.3,117.7 361.6,120.7 363.0,123.0 366.3,126.9 367.8,128.9 369.2,131.7 370.7,135.5 372.2,140.7 373.4,146.7 377.4,170.4 378.2,173.1 378.9,174.2 379.3,174.1 379.8,172.9 380.7,168.7 384.6,139.6 385.7,133.2 386.9,127.8 388.2,124.1 389.9,121.3 391.5,119.6 396.1,116.7 398.1,115.0 400.1,112.1 401.9,107.9 403.4,102.9 404.6,96.8 406.1,87.6 409.0,66.0 409.7,62.5 410.5,61.1 410.8,61.4 411.2,62.3 412.1,67.4 415.8,102.3 416.9,110.3 418.1,117.1 419.2,121.2 420.3,124.2 425.3,133.2 427.5,138.8 429.6,146.9 433.5,165.2 434.2,167.7 434.9,169.1 435.5,169.4 436.0,168.9 437.1,165.6 441.1,142.4 443.1,134.0 444.2,131.1 445.3,129.1 446.6,127.9 448.1,127.6 449.9,128.5 451.5,130.3 453.0,133.0 454.5,136.8 455.7,141.4 457.0,147.2 461.0,169.7 461.9,172.5 462.5,173.0 462.9,172.8 463.6,171.1 464.5,166.6 467.4,145.2 468.9,136.1 470.2,130.3 471.4,126.4 473.3,123.2 474.4,122.1 475.6,121.4 477.3,120.9 479.1,120.7 483.7,121.2 487.1,122.6 489.7,124.8 491.7,128.2 493.5,133.4 494.8,138.9 495.9,145.3 499.7,178.0 500.4,182.5 501.2,184.4 501.5,184.1 501.9,182.9 502.6,178.0 506.3,135.4 507.6,124.5 508.8,116.9 510.9,109.4 516.3,96.6 521.3,81.5 522.3,79.1 523.4,77.9 524.0,78.0 524.5,78.4 525.8,80.8 529.8,94.7 531.7,99.6 533.3,102.2 534.2,102.9 535.1,103.1 536.0,102.8 536.9,102.1 539.0,99.1 541.1,93.5 545.5,79.3 546.8,77.1 547.4,76.8 547.9,76.9 548.8,78.2 549.7,80.6 553.4,94.7 555.2,100.3 557.0,103.5 557.9,104.2 559.0,104.5 559.9,104.2 561.0,103.2 562.1,101.7 563.2,99.5 565.4,93.3 569.6,78.2 570.7,76.0 571.3,75.5 571.8,75.5 572.7,76.7 573.8,79.9 577.3,95.0 579.1,101.2 580.0,103.3 581.1,105.1 582.0,105.9 583.1,106.2 584.2,105.9 585.5,104.7 586.6,102.9 587.7,100.6 589.9,93.9 594.1,77.1 595.2,74.5 595.7,73.9 596.3,73.9 597.2,75.2 598.1,78.1 601.7,95.9 603.6,102.7 604.5,105.1 605.6,107.0 606.7,108.1 607.9,108.5 609.2,107.9 610.5,106.6 611.8,104.5 613.0,101.4 615.4,93.2 619.4,75.0 620.3,72.4 620.9,71.7 621.3,71.6 622.2,72.8 623.1,75.9 626.9,97.3 628.7,104.9 629.8,108.0 630.9,110.0 632.2,111.2 633.5,111.6 635.1,110.9 636.8,109.2 638.2,106.5 639.7,102.7 642.1,93.4 646.1,72.1 647.0,69.2 647.7,68.5 648.1,68.7 648.6,69.8 649.5,73.6 653.4,99.4 654.5,105.1 655.6,109.5 656.8,112.9 658.3,115.3 660.0,116.6 662.0,116.9 663.2,116.5 664.5,115.9 666.9,113.6 668.9,110.2 670.5,105.7 672.0,99.9 673.3,93.1 677.1,66.3 677.8,63.1 678.2,62.2 678.6,61.9 678.9,62.3 679.3,63.3 680.2,68.3 683.9,102.0 685.0,109.8 686.0,115.5 687.1,119.7 688.4,123.1 693.5,131.9 696.1,138.2 698.1,145.8 701.7,164.4 703.2,169.7 703.8,170.5 704.3,170.5 704.8,169.7 705.6,167.3 709.8,141.4 712.0,132.0 713.2,128.7 714.5,126.8 716.0,125.7 717.6,125.6 719.6,126.7 721.5,128.8 723.1,131.8 724.7,136.4 726.0,141.4 727.3,147.8 730.9,170.8 731.9,174.4 732.6,175.4 733.3,174.3 734.2,170.2 738.1,139.4 739.2,132.6 740.2,127.5 741.5,123.3 742.8,120.6 744.4,118.3 748.1,114.7 749.7,112.7 751.6,109.4 753.0,105.6 755.4,96.0 759.6,69.6 760.3,66.2 761.1,64.5 761.6,64.5 762.0,65.2 762.9,69.3 766.7,100.8 767.8,107.8 769.1,113.9 770.2,117.5 771.5,120.4 772.9,122.6 776.4,126.5 777.8,128.5 779.5,131.5 780.9,135.4 782.4,140.7 783.7,146.7 787.5,170.1 788.2,173.2 789.0,174.7 789.5,174.6 789.9,173.8 790.8,169.9 794.8,138.9 796.1,131.5 797.4,126.4 798.6,122.9 800.3,120.2 801.8,118.6 805.8,115.4 808.0,112.7" stroke="#c4c4c4" stroke-width="1"/>
<path d="M86.0,142.0 87.8,136.5 88.7,134.8 89.8,133.5 90.7,132.9 91.8,133.0 92.9,133.6 94.0,134.9 95.9,138.3 97.7,143.7 102.8,164.8 103.7,167.0 104.2,167.6 104.6,167.6 105.5,166.3 106.4,163.3 110.3,143.3 112.3,135.7 113.6,132.7 114.8,131.0 116.3,130.3 117.8,130.7 119.0,131.9 120.1,133.5 121.4,136.2 122.5,139.2 124.7,147.7 128.5,166.6 129.4,169.4 130.0,170.1 130.3,170.2 131.3,168.7 132.2,165.2 136.0,141.7 138.2,132.4 139.5,129.2 140.9,127.2 142.6,126.3 144.2,126.6 145.7,127.6 147.0,129.1 148.2,131.2 149.5,134.2 152.2,143.6 158.5,169.4 160.1,173.6 160.8,174.4 161.6,174.4 162.3,173.3 162.8,171.8 163.9,166.8 167.8,137.6 168.9,131.2 169.9,126.4 171.0,122.9 172.3,120.2 173.8,118.1 177.4,114.3 179.1,112.2 180.7,109.2 182.2,105.4 183.6,100.1 184.9,93.9 188.9,68.9 189.7,66.0 190.4,64.8 190.8,65.0 191.1,65.7 192.0,69.7 195.9,100.4 197.0,107.4 198.2,113.3 199.5,117.4 200.8,120.0 202.3,122.1 205.9,125.7 207.5,127.8 209.2,130.7 210.6,134.4 212.1,139.5 213.6,146.5 217.6,171.8 218.3,174.7 219.0,175.8 219.4,175.6 219.8,174.8 220.7,170.6 224.5,139.3 225.6,132.4 226.7,127.1 228.0,122.9 229.3,120.1 230.7,117.9 234.2,114.1 235.8,112.0 237.5,108.9 238.9,105.1 240.4,99.7 241.7,93.6 245.7,69.0 246.4,66.2 247.1,65.2 247.5,65.4 247.9,66.2 248.8,70.2 252.6,100.5 253.7,107.3 255.0,113.1 256.3,117.0 257.5,119.6 259.2,121.7 263.0,125.1 264.8,127.3 266.7,130.5 268.1,134.2 269.4,138.8 270.7,144.7 274.7,171.0 275.4,174.6 276.2,176.5 276.7,176.6 277.1,175.9 278.0,171.8 281.8,139.3 282.9,132.0 284.2,125.7 285.3,122.0 286.6,119.0 287.8,116.9 292.4,110.7 293.9,107.8 295.1,104.5 296.6,99.4 297.9,93.5 301.9,70.6 302.8,67.6 303.2,67.0 303.5,66.9 303.9,67.3 304.4,68.7 305.4,73.1 308.5,96.2 309.9,105.2 311.2,110.8 312.7,115.0 314.3,117.8 316.3,119.4 318.3,120.2 324.3,121.7 326.2,122.5 327.6,123.5 328.9,124.8 330.2,126.6 331.3,128.7 332.4,131.6 333.8,137.1 335.1,143.9 336.6,154.5 339.3,178.3 340.0,182.3 340.4,183.3 340.8,183.6 341.5,181.6 342.2,176.5 345.9,135.0 347.2,124.6 348.4,117.3 350.4,110.2 354.5,101.2 356.3,96.5 361.2,80.3 362.3,77.8 362.8,77.1 363.4,76.9 363.9,77.1 364.5,77.7 365.6,80.2 369.4,94.8 371.2,100.3 373.1,103.4 374.0,104.2 374.9,104.4 375.8,104.1 376.9,103.3 378.0,101.8 379.1,99.6 381.3,93.6 385.7,78.1 386.8,76.0 387.3,75.6 387.8,75.7 388.8,77.0 389.7,79.6 393.3,95.2 395.1,101.3 396.1,103.4 397.2,105.0 398.1,105.8 399.2,106.1 400.3,105.7 401.5,104.4 403.7,100.2 405.9,93.5 410.1,76.9 411.2,74.4 411.8,74.0 412.1,74.0 413.0,75.2 413.9,77.9 417.8,96.3 419.6,102.9 420.5,105.2 421.6,107.0 422.7,108.0 423.8,108.3 425.1,107.8 426.4,106.5 427.6,104.3 428.9,101.3 431.1,93.9 435.3,75.1 436.2,72.6 436.8,71.9 437.1,71.8 438.0,73.0 438.9,76.1 442.8,97.2 444.6,104.7 445.7,107.7 446.8,109.7 448.1,111.0 449.4,111.3 450.8,110.7 452.5,109.0 453.9,106.4 455.4,102.7 457.7,93.5 461.8,72.5 462.7,69.6 463.2,68.8 463.6,68.8 464.3,70.0 465.2,73.6 469.1,98.9 471.1,108.4 472.3,112.1 473.8,114.6 475.4,116.0 477.3,116.3 478.4,116.0 479.6,115.4 481.8,113.3 483.8,109.9 485.5,105.4 486.9,99.7 488.2,93.1 492.1,67.1 493.0,63.5 493.3,62.9 493.7,62.9 494.4,64.7 495.2,68.7 498.8,101.1 499.9,108.7 501.2,115.2 502.3,119.1 503.6,122.3 509.0,130.8 510.5,133.9 511.8,137.5 513.8,145.3 517.6,166.1 519.1,171.4 519.6,172.0 520.2,171.7 521.3,168.3 525.5,140.4 526.5,134.7 527.8,129.9 529.3,126.3 530.7,124.3 531.7,123.6 532.8,123.2 534.9,123.2 537.5,124.5 539.9,127.1 541.7,130.5 543.3,135.2 544.6,140.5 545.9,147.5 549.7,174.8 550.5,178.0 551.0,178.9 551.4,178.8 551.7,177.9 552.6,173.2 556.3,138.7 557.4,130.7 558.7,123.8 559.8,119.6 560.9,116.6 566.0,107.4 568.2,101.9 570.3,93.8 574.4,74.3 575.3,71.5 576.0,70.6 576.6,70.7 576.9,71.3 578.0,75.0 581.8,97.9 583.9,106.6 584.9,109.6 586.2,111.8 587.5,113.0 589.0,113.3 590.8,112.5 592.4,110.7 594.1,107.8 595.5,104.0 596.8,99.5 598.1,93.6 602.3,69.6 603.2,66.9 603.7,66.6 604.1,66.9 604.8,69.1 605.7,74.0 609.8,103.5 611.0,109.8 612.5,114.6 614.0,117.5 615.8,119.5 617.4,120.5 622.7,122.8 625.5,125.0 626.7,126.7 627.8,128.8 629.7,133.7 630.9,138.8 632.0,144.7 636.0,175.5 636.8,179.6 637.5,181.3 637.9,181.1 638.2,180.2 639.1,174.7 642.8,136.7 643.9,128.1 645.2,120.9 646.3,116.5 647.4,113.3 651.7,104.2 653.6,99.4 655.4,93.3 659.2,77.7 660.1,75.2 661.0,74.0 661.6,74.0 662.1,74.6 663.2,77.6 667.1,96.0 669.1,103.3 670.0,105.5 671.1,107.2 672.2,108.1 673.3,108.3 674.6,107.8 675.8,106.4 677.1,104.2 678.2,101.6 680.6,93.5 684.8,74.8 685.9,72.1 686.4,71.8 686.8,71.9 687.7,73.7 688.6,77.2 692.1,96.7 693.9,104.5 695.0,107.6 696.3,109.9 697.5,111.1 698.8,111.4 700.5,110.7 701.9,109.0 703.4,106.4 704.8,102.6 707.2,93.4 711.2,72.2 712.1,69.4 712.7,68.7 713.1,68.7 713.8,70.0 714.7,73.8 718.3,98.2 720.5,108.6 721.8,112.3 723.3,114.8 724.9,116.2 726.9,116.5 729.3,115.5 731.5,113.4 733.5,110.0 735.1,105.6 736.6,99.9 737.9,93.2 741.7,66.9 742.6,63.2 743.0,62.6 743.4,62.6 744.1,64.4 744.8,68.5 748.5,101.3 749.6,108.9 750.8,115.5 751.9,119.4 753.2,122.6 758.5,131.1 761.1,137.3 763.4,146.5 767.4,167.7 768.4,170.7 769.1,171.6 769.4,171.4 770.0,170.4 770.9,166.9 774.7,141.6 776.9,131.4 778.2,127.9 779.7,125.5 781.5,124.1 783.5,124.0 785.9,125.2 787.9,127.3 789.7,130.5 791.3,135.0 792.8,140.8 794.1,147.5 797.9,173.6 798.8,177.1 799.2,177.6 799.6,177.5 800.3,175.5 801.2,170.0 804.1,143.2 805.4,133.5 806.7,126.3 808.0,121.5" stroke="#c4c4c4" stroke-width="1"/>
<path d="M86.0,142.0 87.8,136.5 88.7,134.8 89.8,133.5 90.7,132.9 91.8,133.0 92.9,133.6 94.0,134.9 95.9,138.3 97.7,143.7 102.8,164.8 103.7,167.0 104.2,167.6 104.6,167.6 105.5,166.3 106.4,163.3 110.3,143.3 112.3,135.7 113.6,132.7 114.8,131.0 116.3,130.3 117.8,130.7 119.0,131.9 120.1,133.5 121.4,136.2 122.5,139.2 124.7,147.7 128.5,166.6 129.4,169.4 130.0,170.1 130.3,170.2 131.3,168.7 132.2,165.2 136.0,141.7 138.2,132.4 139.5,129.2 140.9,127.2 142.6,126.3 144.2,126.6 145.5,127.4 146.8,128.8 148.0,130.9 149.1,133.3 151.2,139.4 156.6,159.6 159.4,168.6 160.6,172.0 161.6,173.7 162.3,174.4 163.0,174.4 163.6,173.7 164.1,172.3 165.0,168.4 169.0,138.7 170.1,132.5 171.2,127.9 172.5,124.1 174.1,121.2 175.8,119.5 180.2,116.6 182.2,114.7 184.2,111.8 185.8,108.0 187.3,103.1 188.6,97.2 190.0,88.2 192.9,66.8 193.9,62.5 194.2,61.7 194.6,61.5 195.3,62.9 196.2,68.2 199.7,101.2 200.8,109.3 202.1,116.3 203.2,120.5 204.3,123.5 205.5,126.1 209.4,132.7 211.7,138.6 213.9,146.9 217.6,164.9 218.9,169.1 219.4,169.8 220.0,169.8 220.5,168.9 221.2,166.6 225.4,141.9 227.6,132.7 228.7,130.0 230.0,128.0 231.3,127.0 232.7,126.8 234.6,127.8 236.2,129.7 237.8,132.7 239.3,136.7 240.6,141.4 241.9,147.4 245.7,169.9 246.6,173.2 247.0,173.8 247.3,173.9 248.1,172.8 249.0,168.8 253.2,137.9 254.4,131.2 255.9,126.0 257.4,122.8 259.0,120.8 260.6,119.6 265.6,117.0 268.1,114.7 270.3,111.1 272.1,106.1 273.6,100.0 274.9,92.8 278.7,64.0 279.4,60.8 280.0,60.0 280.4,60.2 280.7,61.2 281.6,66.6 285.3,103.2 286.4,111.5 287.7,118.5 288.8,122.7 289.8,125.8 294.4,134.8 296.4,140.0 298.4,147.1 302.1,163.2 303.0,166.1 303.9,167.6 304.4,167.7 305.0,167.1 306.1,163.9 309.9,143.8 311.9,135.9 313.0,133.1 314.1,131.3 315.2,130.3 316.5,130.1 317.8,130.6 319.2,132.2 320.7,134.7 322.0,137.9 324.3,146.6 328.5,167.3 329.6,170.1 330.2,170.4 330.5,170.2 331.3,168.5 332.2,164.6 335.7,142.7 337.7,133.5 338.9,129.8 340.2,127.5 341.7,126.2 343.3,125.9 345.3,126.9 347.2,128.9 348.8,131.9 350.3,135.7 351.5,140.4 352.8,146.4 356.8,170.9 357.7,174.2 358.3,175.0 358.6,174.8 359.4,173.0 360.1,169.3 363.8,140.4 364.9,133.5 366.1,127.6 367.4,123.6 368.9,120.7 370.5,118.7 374.2,115.6 376.0,113.6 377.8,110.6 379.5,106.6 380.9,101.5 382.4,94.4 386.6,66.9 387.3,64.1 387.7,63.4 388.0,63.3 388.8,64.8 389.7,69.7 393.3,101.5 394.4,108.9 395.5,114.3 396.6,118.3 397.9,121.5 399.3,124.0 403.7,130.2 405.2,133.2 406.5,136.7 408.7,145.2 412.5,166.7 413.2,170.0 413.9,172.2 414.5,172.8 415.0,172.4 416.1,168.8 420.5,138.6 421.8,132.2 423.3,127.3 424.9,124.0 425.8,123.0 426.9,122.1 428.2,121.6 429.6,121.4 433.1,121.8 436.2,123.3 438.6,125.6 440.6,129.2 442.2,134.0 443.7,140.4 445.0,148.1 448.6,177.7 449.4,181.3 449.9,182.4 450.3,182.1 450.6,181.1 451.4,176.7 455.2,135.6 456.3,126.8 457.6,119.4 458.7,115.0 459.8,111.8 464.0,102.7 465.8,97.9 471.2,78.3 472.2,76.2 473.1,75.3 473.6,75.5 474.2,76.2 475.3,79.0 479.1,95.6 480.9,101.7 481.8,103.8 482.9,105.4 483.8,106.2 484.9,106.4 486.0,106.0 487.3,104.7 489.5,100.5 491.7,93.7 495.9,76.8 497.0,74.2 497.5,73.6 498.1,73.7 499.0,75.2 499.9,78.3 503.6,96.3 505.4,103.2 506.3,105.5 507.4,107.4 508.5,108.4 509.8,108.7 511.0,108.2 512.3,106.8 513.6,104.7 514.9,101.6 517.2,93.3 521.3,74.8 522.3,71.9 522.9,71.4 523.3,71.4 524.2,73.0 525.1,76.5 528.6,96.5 530.6,105.2 531.7,108.2 532.8,110.3 534.0,111.6 535.5,112.0 537.1,111.3 538.8,109.5 540.2,106.9 541.7,103.1 544.1,93.8 548.1,72.0 549.0,68.9 549.5,68.1 549.9,68.1 550.6,69.3 551.5,73.1 555.4,99.5 556.5,105.3 557.8,110.4 559.0,113.8 560.7,116.3 562.5,117.5 564.9,117.7 567.6,116.7 570.2,114.4 572.2,111.1 574.0,106.2 575.5,100.3 576.7,93.3 580.6,65.1 581.3,61.7 581.7,60.8 582.0,60.5 582.8,62.0 583.7,67.5 587.1,101.8 588.2,110.2 589.5,117.3 590.6,121.6 591.7,124.7 596.4,133.9 598.6,139.4 600.8,147.4 604.5,164.2 605.2,166.6 605.9,168.1 606.5,168.5 607.0,168.2 607.6,167.1 608.3,164.7 612.3,142.7 614.3,134.7 615.4,131.9 616.5,130.2 617.6,129.2 618.9,128.9 620.5,129.7 622.0,131.3 623.5,134.0 624.7,137.2 627.3,147.0 631.3,168.1 632.4,171.2 632.9,171.6 633.3,171.4 634.0,169.6 634.8,166.4 638.4,142.1 640.6,131.7 641.9,128.0 643.3,125.5 645.2,124.1 647.2,123.9 649.5,125.0 651.7,127.3 653.6,130.5 655.2,135.1 656.5,140.0 657.8,146.6 661.8,173.8 662.5,176.7 663.1,177.7 663.4,177.5 663.8,176.8 664.7,172.4 668.5,138.4 669.6,130.9 670.9,124.5 672.0,120.7 673.1,118.0 674.4,115.6 678.6,109.2 681.1,103.0 683.5,93.7 687.3,73.2 688.2,69.9 689.0,68.7 689.5,68.8 689.9,69.3 691.0,73.4 694.8,98.9 695.9,104.7 697.2,109.7 698.5,113.0 699.9,115.3 701.6,116.4 703.6,116.6 705.9,115.5 708.1,113.4 710.0,110.2 711.6,105.9 713.1,100.3 714.3,93.6 718.3,66.2 719.3,62.8 719.8,62.3 720.2,62.8 720.7,64.7 721.5,69.1 724.9,100.9 726.0,108.7 727.3,115.5 728.4,119.5 729.7,122.8 735.0,131.5 737.5,137.8 739.9,147.2 743.7,167.2 744.6,170.2 745.4,171.2 745.7,171.1 746.3,170.3 747.2,167.0 751.2,141.2 752.3,135.6 753.4,131.4 754.7,128.1 755.9,126.0 757.6,124.8 759.4,124.6 761.6,125.7 763.6,127.8 765.4,131.1 766.9,135.1 768.2,139.9 769.4,146.2 773.6,173.4 774.6,176.4 775.1,176.7 775.5,176.1 776.2,173.4 776.9,168.7 780.6,137.3 782.6,126.1 783.7,122.3 785.0,119.2 786.4,116.7 791.0,110.6 792.4,107.7 793.7,104.2 795.0,99.8 796.3,94.0 800.3,71.1 801.0,68.3 801.6,67.1 802.1,67.0 802.5,67.4 803.6,71.5 808.0,102.6" stroke="#c4c4c4" stroke-width="1"/>
<path d="M86.0,142.0 87.8,136.5 88.7,134.8 89.8,133.5 90.7,132.9 91.8,133.0 92.9,133.6 94.0,134.9 95.9,138.3 97.7,143.7 102.8,164.8 103.7,167.0 104.2,167.6 104.6,167.6 105.5,166.3 106.4,163.3 110.3,143.3 112.3,135.7 113.6,132.7 114.8,131.0 116.3,130.3 117.8,130.7 119.0,131.9 120.1,133.5 121.4,136.2 122.5,139.2 124.7,147.7 128.5,166.6 129.4,169.4 130.0,170.1 130.3,170.2 131.3,168.7 132.2,165.2 136.0,141.7 138.2,132.4 139.5,129.2 140.9,127.2 142.6,126.3 144.2,126.6 145.9,127.7 147.5,129.9 149.0,132.8 150.2,136.4 152.8,146.8 157.2,170.6 158.3,174.0 158.8,174.5 159.2,174.4 160.1,172.4 161.0,168.1 165.0,139.2 166.3,131.5 167.2,128.0 168.5,124.4 170.1,121.6 172.1,119.8 176.9,117.2 179.1,115.5 181.3,112.6 183.1,108.5 184.5,103.6 186.0,96.7 187.5,87.2 190.4,65.0 191.1,61.5 191.5,60.6 191.8,60.3 192.2,60.7 192.6,61.8 193.5,67.3 197.0,101.9 198.1,110.3 199.3,117.5 200.4,121.8 201.5,125.0 206.3,134.2 208.5,139.8 210.5,147.1 214.1,163.7 215.6,167.8 216.1,168.3 216.7,168.0 217.2,167.1 217.9,164.8 222.0,143.3 224.0,135.2 225.1,132.4 226.2,130.6 227.3,129.6 228.5,129.3 230.0,129.9 231.6,131.7 233.1,134.4 234.4,137.7 236.7,146.7 240.8,167.4 241.9,170.7 242.4,171.2 242.8,171.1 243.5,169.6 244.4,165.7 248.1,141.8 250.2,131.8 251.5,128.3 252.8,126.2 254.4,124.8 256.3,124.6 258.5,125.6 260.5,127.7 262.3,130.9 263.9,135.4 265.2,140.3 266.5,146.7 270.5,172.9 271.2,175.8 271.6,176.5 272.0,176.7 272.7,175.4 273.6,170.7 277.3,139.4 278.4,132.0 279.6,125.8 280.7,122.1 282.0,119.0 283.5,116.7 287.8,110.8 289.3,108.0 290.8,104.1 292.0,99.5 293.3,93.7 297.3,70.7 298.2,67.6 298.6,67.0 299.0,66.9 299.3,67.2 299.9,68.5 300.8,72.8 303.9,96.0 305.4,105.1 306.6,110.7 308.1,115.0 309.7,117.8 311.6,119.4 313.6,120.3 319.4,121.9 321.1,122.7 322.5,123.8 323.8,125.2 325.1,127.2 327.1,132.0 328.5,137.6 329.8,144.5 331.1,153.6 333.8,177.1 334.6,181.4 335.3,183.1 335.7,182.8 336.0,181.6 336.8,177.1 340.6,134.8 341.7,125.9 343.0,118.5 344.0,114.0 345.1,110.7 349.2,101.9 351.0,97.1 356.3,79.1 357.4,76.9 358.3,76.2 358.8,76.5 359.4,77.2 360.5,80.0 364.1,94.8 365.9,100.6 367.8,104.1 368.7,104.9 369.8,105.2 370.9,104.9 372.0,103.9 373.1,102.3 374.2,100.1 376.4,93.7 380.7,77.4 381.8,75.2 382.4,74.8 382.9,74.9 383.8,76.4 384.7,79.2 388.2,95.1 390.0,101.7 391.0,104.0 392.0,105.8 393.1,106.9 394.2,107.2 395.3,106.8 396.6,105.6 397.9,103.5 399.0,101.1 401.4,93.4 405.6,75.8 406.6,73.3 407.2,72.9 407.6,73.0 408.5,74.5 409.4,77.7 413.0,96.6 414.9,103.7 416.0,106.6 417.0,108.4 418.1,109.4 419.4,109.7 420.7,109.2 422.2,107.6 423.6,105.0 424.9,101.8 427.3,93.1 431.3,73.7 432.2,71.1 432.7,70.4 433.1,70.4 434.0,72.0 434.9,75.6 438.6,97.8 440.6,106.6 441.7,109.7 443.0,112.0 444.4,113.3 445.9,113.5 447.7,112.7 449.4,110.9 451.0,108.0 452.5,104.2 453.7,99.6 455.0,93.7 459.0,70.2 459.9,67.0 460.5,66.3 460.8,66.4 461.6,68.1 462.3,71.6 466.1,100.3 467.2,106.7 468.5,112.1 470.0,116.2 471.6,118.9 473.4,120.5 478.2,123.0 480.4,124.7 482.6,127.7 484.4,131.7 485.8,136.7 487.3,143.7 488.8,153.1 491.7,175.5 492.4,178.9 492.8,179.9 493.1,180.1 493.9,178.6 494.6,174.4 498.4,136.6 499.5,128.6 500.8,121.7 501.9,117.6 503.0,114.6 507.4,106.1 509.6,100.6 511.6,93.5 515.4,76.4 516.5,73.2 517.1,72.4 517.4,72.3 517.8,72.4 518.3,73.2 519.4,76.8 523.1,96.5 525.1,104.6 526.2,107.5 527.3,109.3 528.4,110.3 529.6,110.7 531.1,110.1 532.6,108.5 534.0,106.0 535.3,102.8 537.7,94.0 541.9,72.8 543.0,69.8 543.5,69.4 543.9,69.6 544.6,71.3 545.5,75.2 549.2,98.7 551.2,107.8 552.5,111.3 553.7,113.5 555.2,114.8 557.0,115.1 559.0,114.2 561.0,112.1 562.7,109.2 564.3,104.8 565.6,100.1 566.9,93.8 570.9,68.4 571.8,65.0 572.4,64.4 572.7,64.6 573.4,66.7 574.2,70.8 577.8,101.0 578.9,108.0 580.0,113.2 581.3,117.5 582.6,120.4 584.0,122.5 587.5,126.3 589.0,128.3 590.6,131.3 592.1,135.1 593.5,140.3 594.8,146.4 598.8,170.9 599.5,173.7 600.3,174.9 600.6,174.8 601.2,173.6 602.1,169.3 605.7,140.4 606.8,133.6 608.1,127.7 609.4,123.7 610.9,120.8 612.5,118.8 616.3,115.5 618.2,113.5 620.0,110.5 621.4,106.9 622.9,101.8 624.4,94.9 628.6,67.2 629.3,64.2 629.7,63.4 630.0,63.2 630.8,64.4 631.7,69.1 635.3,101.0 636.4,108.5 637.7,114.9 638.8,118.7 640.1,121.8 641.3,124.0 645.7,130.3 647.2,133.3 648.5,136.8 651.0,147.1 654.8,168.4 655.8,171.7 656.5,172.7 656.8,172.5 657.4,171.5 658.3,167.7 662.3,139.7 663.6,133.1 664.9,128.4 666.5,124.8 668.3,122.7 669.4,122.1 670.7,121.8 673.6,122.0 675.3,122.5 676.7,123.3 679.1,125.5 681.1,128.9 682.8,133.4 684.2,139.3 685.5,146.4 689.5,177.5 690.4,181.2 690.8,181.5 691.2,181.1 691.9,178.0 692.6,172.4 696.3,134.1 697.4,126.0 698.5,120.1 699.6,115.9 700.6,112.8 704.8,104.0 706.7,99.3 708.5,93.1 712.3,77.8 713.2,75.4 714.2,74.2 714.7,74.3 715.2,74.9 716.3,77.8 720.2,95.9 722.2,103.0 723.1,105.2 724.2,106.9 725.1,107.7 726.2,108.0 727.5,107.5 728.8,106.2 730.0,104.1 731.1,101.5 733.5,93.6 737.7,75.2 738.8,72.5 739.3,72.1 739.9,72.4 740.6,73.8 741.5,77.2 745.0,96.2 747.0,104.6 748.1,107.5 749.2,109.4 750.5,110.6 751.7,110.9 753.2,110.2 754.7,108.6 756.1,106.1 757.4,102.8 759.8,94.0 764.0,72.6 764.9,69.9 765.4,69.2 765.8,69.3 766.5,70.5 767.4,74.2 771.1,97.9 773.3,108.1 774.6,111.6 775.8,113.8 777.3,115.1 779.1,115.5 780.2,115.2 781.3,114.6 783.3,112.6 785.1,109.4 786.8,105.0 788.1,100.2 789.3,93.9 793.4,68.0 794.3,64.5 794.6,64.0 795.0,63.9 795.7,65.6 796.6,70.5 799.9,98.8 801.9,111.4 803.0,115.9 804.3,119.6 805.8,122.3 808.0,125.1" stroke="#c4c4c4" stroke-width="1"/>
<path d="M86.0,142.0 87.8,136.5 88.7,134.8 89.8,133.5 90.7,132.9 91.8,133.0 92.9,133.6 94.0,134.9 95.9,138.3 97.7,143.7 102.8,164.8 103.7,167.0 104.2,167.6 104.6,167.6 105.5,166.3 106.4,163.3 110.3,143.3 112.3,135.7 113.6,132.7 114.8,131.0 116.3,130.3 117.8,130.7 119.0,131.9 120.1,133.5 121.4,136.2 122.5,139.2 124.7,147.7 128.5,166.6 129.4,169.4 130.0,170.1 130.3,170.2 131.3,168.7 132.2,165.2 136.0,141.7 138.2,132.4 139.5,129.2 140.9,127.2 142.6,126.3 144.2,126.6 145.9,127.7 147.5,129.9 149.0,132.8 150.2,136.4 152.8,146.7 157.2,170.1 158.3,173.7 158.8,174.4 159.4,174.4 160.3,172.4 161.4,167.3 166.3,132.0 167.4,127.1 168.7,123.1 169.9,120.4 171.6,118.2 175.2,114.7 176.9,112.7 178.5,109.8 180.0,106.2 181.4,101.2 182.9,94.4 187.1,68.2 187.8,65.4 188.2,64.7 188.6,64.5 189.3,65.7 190.2,70.1 194.0,101.4 195.1,108.3 196.2,113.4 197.5,117.5 198.8,120.3 200.2,122.4 203.7,126.1 205.2,128.0 206.8,130.9 208.3,134.6 209.7,139.7 211.0,145.7 215.2,171.4 216.1,174.6 216.5,175.1 216.8,175.2 217.6,173.7 218.5,169.1 222.1,139.8 223.2,133.0 224.5,127.1 225.8,123.2 227.1,120.6 228.7,118.4 232.4,115.1 234.0,113.2 235.8,110.1 237.3,106.4 238.7,101.4 240.2,94.4 244.4,67.5 245.1,64.7 245.5,64.0 245.9,63.9 246.6,65.2 247.5,69.9 251.2,100.9 252.3,108.1 253.5,114.3 254.6,118.0 255.9,121.0 257.4,123.3 261.9,129.2 263.4,132.0 264.8,135.9 266.1,140.4 267.4,146.2 271.6,170.4 272.5,173.3 272.9,173.8 273.2,173.8 274.2,171.7 275.1,166.9 279.3,136.2 280.5,130.0 281.8,125.8 283.3,122.7 284.9,120.8 286.6,119.6 291.5,117.3 294.2,114.9 296.4,111.3 298.2,106.3 299.7,100.3 301.0,93.1 304.8,64.1 305.5,60.7 306.1,59.7 306.5,59.9 306.8,60.8 307.7,66.0 311.4,103.0 312.5,111.5 313.8,118.6 314.9,122.9 315.9,126.1 320.5,135.3 322.5,140.5 324.5,147.7 328.0,162.7 329.5,166.7 330.2,167.3 330.7,167.0 331.3,166.1 332.0,163.9 336.2,142.7 338.2,135.5 339.1,133.4 340.2,131.7 341.3,130.9 342.4,130.7 343.7,131.3 345.1,132.9 346.4,135.1 347.7,138.3 350.1,146.8 354.3,166.9 355.4,169.5 355.9,169.8 356.3,169.5 357.0,168.0 357.9,164.2 361.4,143.1 363.4,134.1 364.5,131.0 365.8,128.6 367.2,127.2 368.7,126.9 370.5,127.8 372.3,129.8 374.0,132.9 375.4,136.9 377.8,146.7 381.6,169.2 382.6,172.7 383.3,173.8 383.7,173.6 384.0,173.0 384.9,169.5 389.3,137.8 390.8,130.4 392.2,125.6 393.7,122.7 395.3,120.8 397.2,119.6 402.1,117.4 404.8,115.1 406.1,113.3 407.2,111.3 409.0,106.2 410.5,100.1 411.8,92.8 415.6,63.4 416.3,60.2 416.9,59.3 417.2,59.6 417.6,60.7 418.3,64.9 422.2,103.9 423.3,112.3 424.5,119.3 425.6,123.6 426.7,126.7 431.1,135.7 433.1,140.9 434.9,147.3 438.6,162.6 439.5,165.3 440.2,166.6 440.8,166.9 441.3,166.5 442.6,163.3 446.6,143.6 448.6,136.3 449.5,134.2 450.6,132.4 451.7,131.5 452.8,131.3 454.1,131.9 455.4,133.2 456.7,135.4 457.9,138.4 460.3,146.7 464.5,166.1 465.6,168.8 466.1,169.2 466.5,169.0 467.2,167.6 468.1,164.1 471.8,142.9 473.6,135.0 474.7,131.9 476.0,129.5 477.3,128.3 478.7,128.0 480.4,128.7 482.0,130.5 483.5,133.1 484.9,136.9 486.2,141.3 487.5,147.1 491.5,169.2 492.4,172.1 492.8,172.6 493.1,172.6 493.9,171.5 494.8,167.7 498.8,139.8 499.9,134.0 501.2,129.0 502.6,125.4 504.5,123.0 505.6,122.3 506.7,121.9 509.6,121.9 511.2,122.3 512.9,123.1 515.4,125.3 517.4,128.6 519.2,133.4 520.7,139.3 522.0,146.5 526.0,177.6 526.7,180.8 527.3,181.5 527.6,181.1 528.0,179.9 528.7,175.4 532.6,135.5 533.7,127.1 534.9,120.1 536.0,115.9 537.1,112.8 541.1,104.4 543.0,99.8 545.0,93.1 548.8,77.8 549.9,75.0 550.8,74.1 551.2,74.2 551.7,74.9 552.8,77.8 556.7,95.9 558.5,102.6 559.4,104.9 560.5,106.7 561.6,107.7 562.7,108.0 564.0,107.5 565.2,106.2 566.5,104.1 567.6,101.6 570.0,93.7 574.2,75.2 575.3,72.5 575.8,72.1 576.4,72.3 577.1,73.8 578.0,77.2 581.5,96.2 583.5,104.6 584.6,107.5 585.7,109.5 587.0,110.7 588.2,110.9 589.9,110.1 591.3,108.5 592.8,105.7 594.1,102.4 596.4,93.3 600.5,72.7 601.4,69.9 601.9,69.2 602.3,69.2 603.0,70.4 603.9,74.0 607.8,98.8 609.8,108.0 611.0,111.6 612.5,114.1 614.0,115.3 615.8,115.6 618.0,114.6 620.0,112.5 621.8,109.3 623.5,104.8 624.7,100.0 626.0,93.6 630.0,67.6 630.9,64.3 631.3,63.8 631.7,63.9 632.4,65.7 633.1,69.7 636.8,100.8 637.9,108.0 639.1,114.3 640.2,118.0 641.5,121.0 643.0,123.4 647.5,129.4 649.0,132.2 650.5,136.1 651.7,140.7 653.0,146.5 657.0,169.8 657.8,172.5 658.5,173.7 658.9,173.6 659.2,173.1 660.1,169.7 664.5,138.1 666.0,130.7 667.4,125.8 668.9,122.8 670.7,120.8 672.4,119.8 677.7,117.5 680.4,115.3 681.7,113.6 682.8,111.6 684.6,106.7 685.9,101.6 687.0,95.8 691.0,65.0 691.7,60.9 692.4,59.0 692.8,59.1 693.2,60.0 694.1,65.2 697.7,103.2 699.0,113.1 700.3,120.1 702.3,126.9 706.7,136.1 708.5,140.8 710.5,147.6 714.2,162.5 715.1,165.0 716.0,166.3 716.5,166.3 717.1,165.7 718.2,162.8 722.2,143.7 724.0,137.1 724.9,134.9 726.0,133.2 727.1,132.2 728.2,132.0 729.5,132.5 730.8,133.9 732.0,136.1 733.1,138.6 735.5,146.7 739.7,165.4 740.8,168.1 741.3,168.5 741.7,168.4 742.6,166.7 743.5,163.2 747.0,143.7 749.0,135.3 750.1,132.4 751.2,130.4 752.5,129.2 753.8,128.9 755.2,129.5 756.9,131.3 758.3,133.9 759.8,137.7 762.1,146.9 766.2,168.0 767.1,170.9 767.6,171.6 768.0,171.6 768.7,170.3 769.6,166.6 773.3,142.2 775.5,131.8 776.7,128.1 778.2,125.6 779.9,124.2 781.9,123.9 783.0,124.2 784.2,124.9 786.4,127.0 788.4,130.5 790.1,135.0 791.5,140.7 792.8,147.5 796.6,173.6 797.4,176.7 797.7,177.5 798.1,177.7 798.8,176.3 799.7,171.4 803.0,141.6 804.5,131.1 806.1,123.2 808.0,118.0" stroke="#c4c4c4" stroke-width="1"/>
<path d="M86.0,142.0 87.8,136.5 88.7,134.8 89.8,133.5 90.7,132.9 91.8,133.0 92.9,133.6 94.0,134.9 95.9,138.3 97.7,143.7 102.8,164.8 103.7,167.0 104.2,167.6 104.6,167.6 105.5,166.3 106.4,163.3 110.3,143.3 112.3,135.7 113.6,132.7 114.8,131.0 116.3,130.3 117.8,130.7 119.0,131.9 120.1,133.5 121.4,136.2 122.5,139.2 124.7,147.7 128.5,166.6 129.4,169.4 130.0,170.1 130.3,170.2 131.3,168.7 132.2,165.2 136.0,141.7 138.2,132.4 139.5,129.2 140.9,127.2 142.6,126.3 144.2,126.6 145.9,127.7 147.5,129.9 149.0,132.8 150.2,136.4 152.8,146.7 157.2,170.2 158.3,173.7 158.8,174.4 159.4,174.4 160.3,172.4 161.4,167.2 166.1,134.2 166.3,134.7 167.6,129.1 168.9,125.4 170.5,122.6 172.3,120.9 174.3,120.1 180.4,118.5 182.2,117.6 183.6,116.5 184.9,115.2 186.2,113.2 188.2,108.4 189.7,102.8 190.9,95.8 192.2,86.6 195.0,62.9 195.7,58.6 196.4,56.9 196.8,57.2 197.1,58.4 197.9,63.1 201.5,104.1 202.8,114.8 204.1,122.2 205.9,129.0 211.4,141.7 213.2,147.2 216.8,159.7 217.8,162.0 218.7,163.4 219.4,163.7 220.0,163.3 221.2,160.8 225.4,144.6 227.3,139.3 228.9,136.6 229.8,135.8 230.7,135.6 231.6,135.8 232.7,136.7 233.8,138.2 234.9,140.3 237.1,146.4 241.5,162.2 242.8,164.7 243.3,165.1 243.9,164.8 244.8,163.3 245.7,160.5 249.2,145.2 251.0,138.9 251.9,136.7 253.0,135.0 253.9,134.1 255.0,133.8 256.1,134.2 257.4,135.4 258.6,137.4 259.7,139.9 261.9,146.7 266.1,163.7 267.2,166.3 267.8,166.7 268.1,166.7 269.0,165.5 270.0,162.6 273.6,144.6 275.4,137.5 276.3,135.1 277.4,133.1 278.5,131.9 279.8,131.5 281.1,131.9 282.5,133.4 283.8,135.6 285.1,138.7 287.5,147.0 291.5,165.6 292.4,168.2 293.0,168.9 293.3,169.0 293.7,168.8 294.2,167.8 295.1,164.6 299.0,142.8 300.8,135.0 301.9,131.9 303.0,129.9 304.3,128.6 305.7,128.2 307.4,128.9 309.0,130.7 310.5,133.3 311.9,137.1 313.2,141.5 314.5,147.2 318.3,168.3 319.2,171.4 319.8,172.3 320.1,172.4 320.9,171.2 321.8,167.5 325.6,141.0 326.7,135.0 328.0,129.9 329.5,126.1 331.1,123.7 332.9,122.6 335.3,122.4 336.8,122.7 338.2,123.4 340.8,125.6 342.8,128.8 344.6,133.5 346.1,139.2 347.5,147.3 351.3,175.9 352.1,179.2 352.4,180.0 352.8,180.2 353.5,178.4 354.3,174.0 357.9,137.6 359.0,129.3 360.3,122.2 361.4,117.9 362.5,114.8 367.0,105.9 369.2,100.2 371.2,93.0 374.9,76.8 375.6,74.4 376.4,72.8 376.9,72.4 377.4,72.6 378.0,73.6 378.7,75.8 382.7,96.9 384.7,104.8 385.8,107.5 386.9,109.3 388.0,110.2 389.3,110.5 390.6,109.9 392.0,108.4 393.5,105.8 394.8,102.7 397.2,94.0 401.4,73.0 402.4,70.0 403.0,69.6 403.4,69.8 404.1,71.4 405.0,75.3 408.7,98.5 410.7,107.6 411.9,111.1 413.2,113.3 414.7,114.5 416.3,114.8 418.3,113.9 420.3,111.8 422.0,108.8 423.6,104.4 424.9,99.6 426.2,93.3 430.0,69.2 430.9,65.7 431.3,65.0 431.6,64.8 432.4,66.0 433.3,70.4 437.1,101.3 438.2,108.1 439.3,113.1 440.6,117.2 441.9,120.0 443.3,122.0 447.0,125.7 448.6,127.8 450.3,130.7 451.7,134.4 453.2,139.5 454.6,146.4 458.7,171.7 459.4,174.6 460.1,175.7 460.5,175.5 460.8,174.8 461.8,170.7 465.6,139.5 466.7,132.5 468.0,126.6 469.2,122.5 470.5,119.9 472.0,117.8 475.3,114.3 476.9,112.2 478.5,109.2 480.0,105.5 481.5,100.3 482.7,94.3 486.9,68.6 487.7,65.9 488.0,65.2 488.4,65.0 489.1,66.2 490.0,70.5 493.9,101.0 495.0,107.7 496.1,112.8 497.3,116.9 498.6,119.6 500.3,121.8 503.9,125.2 505.7,127.4 507.6,130.6 509.0,134.4 510.5,139.6 511.8,145.8 516.0,172.6 516.7,175.4 517.1,176.1 517.4,176.3 518.2,175.1 519.1,170.5 522.7,139.7 523.8,132.4 525.1,126.2 526.2,122.5 527.5,119.5 528.9,117.2 532.2,113.3 533.7,111.2 535.1,108.3 536.6,104.5 537.9,99.9 539.1,94.1 543.2,70.4 544.1,67.1 544.8,66.2 545.5,67.2 546.4,71.1 550.3,99.9 551.4,106.4 552.6,112.0 554.1,116.2 555.7,118.9 557.6,120.6 562.1,123.2 564.3,125.0 566.3,127.8 568.2,131.8 569.6,136.7 571.1,143.7 572.5,153.0 575.5,175.1 576.2,178.5 576.6,179.5 576.9,179.8 577.3,179.4 577.6,178.3 578.6,172.9 582.0,138.6 583.1,130.3 584.4,123.1 585.5,118.8 586.6,115.6 591.5,106.2 593.7,100.5 595.7,93.1 599.4,76.2 600.1,73.7 600.8,72.2 601.4,71.7 601.9,72.0 602.5,73.0 603.2,75.4 607.2,97.5 609.2,105.6 610.3,108.4 611.4,110.2 612.7,111.2 614.0,111.4 615.6,110.6 617.1,108.9 618.5,106.2 619.8,102.8 622.2,93.7 626.2,72.5 627.3,69.1 627.8,68.6 628.2,68.8 628.9,70.3 629.8,74.4 633.5,98.9 635.7,109.1 637.0,112.6 638.4,115.0 640.2,116.4 642.2,116.5 643.5,116.1 644.8,115.4 647.0,113.0 648.8,109.7 650.5,105.1 651.7,100.1 653.0,93.4 656.8,66.9 657.6,63.7 658.3,62.4 658.7,62.6 659.0,63.5 660.0,68.1 663.6,101.2 664.7,108.9 666.0,115.6 667.1,119.6 668.3,122.8 673.6,131.5 676.2,137.8 678.6,147.1 682.2,166.4 683.5,170.7 684.0,171.3 684.6,171.0 685.7,167.9 689.9,141.1 691.0,135.5 692.3,130.8 693.5,127.6 694.8,125.7 696.5,124.6 698.3,124.5 700.5,125.6 702.7,128.0 704.5,131.5 705.9,135.7 707.2,140.7 708.5,147.3 712.3,172.7 713.1,175.8 713.8,176.9 714.2,176.6 714.5,175.8 715.4,171.3 719.1,139.7 720.2,132.2 721.5,125.8 722.5,122.0 723.8,118.8 725.1,116.7 729.7,110.3 731.1,107.3 732.4,103.9 734.6,95.4 738.6,72.8 739.3,69.6 740.1,67.7 740.6,67.3 741.0,67.6 742.1,71.1 746.6,102.7 748.1,109.6 749.7,114.5 750.7,116.2 751.7,117.6 752.8,118.5 754.1,119.1 755.8,119.4 757.8,119.5 762.3,118.8 765.4,117.3 767.8,115.0 769.8,111.3 771.5,106.3 772.7,100.6 773.8,94.0 777.5,62.6 778.2,58.0 778.9,56.0 779.3,56.3 779.7,57.4 780.6,63.8 783.5,98.6 785.0,112.7 786.4,122.2 788.2,129.5 789.5,132.9 794.1,143.4 799.2,159.2 800.1,161.2 801.0,162.4 801.8,162.5 802.3,162.2 803.6,159.8 808.0,144.6" stroke="#c4c4c4" stroke-width="1"/>
<path d="M86.0,142.0 87.8,136.5 88.7,134.8 89.8,133.5 90.7,132.9 91.8,133.0 92.9,133.6 94.0,134.9 95.9,138.3 97.7,143.7 102.8,164.8 103.7,167.0 104.2,167.6 104.6,167.6 105.5,166.3 106.4,163.3 110.3,143.3 112.3,135.7 113.6,132.7 114.8,131.0 116.3,130.3 117.8,130.7 119.0,131.9 120.1,133.5 121.4,136.2 122.5,139.2 124.7,147.7 128.5,166.6 129.4,169.4 130.0,170.1 130.3,170.2 131.3,168.7 132.2,165.2 136.0,141.7 138.2,132.4 139.5,129.2 140.9,127.2 142.6,126.3 144.2,126.6 145.9,127.7 147.3,129.6 148.6,132.0 149.9,135.3 152.6,145.3 157.9,169.6 159.4,173.7 160.1,174.5 160.6,174.4 161.2,173.7 161.7,172.4 163.0,166.8 167.0,138.1 168.1,131.9 169.2,127.3 170.5,123.6 172.0,120.9 173.6,119.1 177.6,116.0 179.4,114.2 181.4,111.0 183.1,107.0 184.5,101.9 186.0,94.8 190.2,66.3 190.9,63.4 191.3,62.6 191.7,62.4 192.4,63.9 193.3,69.1 197.0,102.1 198.1,109.6 199.1,115.2 200.2,119.3 201.5,122.6 207.0,131.6 209.6,138.0 211.6,145.7 215.2,165.1 216.7,170.5 217.2,171.3 217.8,171.3 218.3,170.3 219.0,167.7 223.2,140.6 224.3,135.1 225.6,130.4 226.9,127.3 228.2,125.5 229.8,124.4 231.6,124.3 233.8,125.3 236.0,127.7 237.8,131.0 239.5,135.7 240.8,140.8 242.0,147.5 245.9,173.1 246.6,176.1 247.0,176.9 247.3,177.2 248.1,175.9 249.0,171.2 252.6,139.2 253.7,131.8 255.0,125.4 256.1,121.5 257.4,118.4 258.6,116.2 263.0,109.9 264.5,106.8 265.8,103.3 268.1,93.8 272.0,72.5 273.2,68.2 273.8,67.8 274.3,68.2 275.4,72.1 279.6,100.9 280.9,107.4 282.2,111.9 283.6,115.2 285.5,117.3 286.6,118.0 287.8,118.3 290.6,118.1 293.5,116.7 295.9,114.3 297.9,110.7 299.5,106.0 301.0,99.8 302.3,92.3 305.9,64.2 306.6,60.6 307.0,59.6 307.4,59.4 308.1,61.0 308.8,65.5 312.5,102.9 313.6,111.5 314.9,118.8 315.9,123.2 317.0,126.4 321.4,135.3 323.4,140.5 325.4,147.4 329.1,162.8 330.0,165.5 330.7,166.7 331.3,166.9 331.8,166.5 333.1,163.2 337.1,143.4 338.9,136.6 339.9,134.4 340.9,132.5 342.0,131.5 343.1,131.2 344.4,131.7 345.9,133.2 347.2,135.4 348.4,138.5 350.8,146.8 355.0,166.3 356.1,168.9 356.6,169.2 357.0,169.0 357.7,167.6 358.6,164.1 362.1,143.7 364.1,134.9 365.2,131.7 366.5,129.4 367.8,128.2 369.2,127.8 370.9,128.6 372.5,130.3 374.0,132.9 375.4,136.7 376.7,141.1 378.0,146.8 382.0,169.1 382.9,172.1 383.5,172.8 383.8,172.7 384.6,171.2 385.3,168.1 389.3,139.9 390.6,133.2 391.9,128.5 393.5,124.7 395.3,122.6 396.4,121.9 397.7,121.5 400.8,121.6 404.1,122.7 405.6,123.7 406.8,124.9 409.0,128.3 410.8,133.2 412.3,139.2 413.6,146.5 417.6,178.3 418.3,181.6 418.9,182.3 419.6,180.4 420.3,175.7 424.0,136.3 425.3,126.1 426.5,119.0 428.5,112.1 432.7,103.0 434.8,97.7 440.2,78.0 441.1,75.9 442.1,75.1 442.6,75.4 443.1,76.1 444.2,79.2 447.9,95.3 449.7,101.6 450.6,103.7 451.7,105.5 452.6,106.3 453.7,106.6 454.8,106.3 456.1,105.1 457.4,103.1 458.5,100.6 460.7,93.7 464.9,76.6 466.0,73.9 466.5,73.4 467.1,73.5 468.0,75.1 468.9,78.2 472.3,95.7 474.2,102.8 475.3,105.7 476.4,107.6 477.5,108.7 478.7,109.0 480.0,108.5 481.5,106.9 482.7,104.7 484.0,101.5 486.4,93.0 490.2,75.0 491.3,71.8 491.9,71.1 492.2,71.1 493.1,72.5 494.1,75.9 497.7,97.1 499.7,105.8 500.8,108.8 501.9,110.8 503.2,112.0 504.6,112.4 506.3,111.7 507.9,110.0 509.6,107.0 511.0,103.2 513.4,93.7 517.4,71.5 518.3,68.4 518.9,67.6 519.2,67.6 520.0,69.0 520.9,73.0 524.7,100.0 526.0,106.8 527.3,111.6 528.7,115.1 530.6,117.5 532.8,118.6 535.7,118.7 539.0,117.6 540.4,116.6 541.7,115.4 543.9,112.1 545.7,107.4 547.2,101.6 548.6,93.4 552.6,62.0 553.4,58.9 553.9,58.4 554.7,60.4 555.4,65.2 559.0,104.2 560.1,112.9 561.4,120.2 562.5,124.6 563.6,127.9 567.8,136.8 569.6,141.5 571.4,147.6 574.9,161.2 575.8,163.8 576.6,165.2 577.3,165.6 577.8,165.3 579.1,162.4 583.1,144.4 585.1,137.6 587.0,134.2 587.9,133.4 589.0,133.1 590.1,133.4 591.3,134.6 592.6,136.7 593.7,139.1 596.1,146.7 600.3,164.4 601.4,167.0 601.9,167.5 602.5,167.3 603.2,165.9 604.1,162.8 607.8,143.8 609.6,136.6 610.7,133.7 611.8,131.8 612.9,130.8 614.1,130.5 615.4,131.0 616.9,132.5 618.3,135.0 619.6,138.2 622.0,146.9 626.0,166.4 627.1,169.5 627.6,170.0 628.0,169.9 628.7,168.6 629.7,165.1 633.3,142.8 635.3,133.8 636.4,130.7 637.7,128.3 639.1,126.9 640.6,126.6 642.4,127.4 644.3,129.3 645.9,132.2 647.5,136.6 648.8,141.4 650.1,147.5 653.9,170.2 654.7,173.0 655.4,174.2 655.8,174.0 656.3,173.0 657.2,168.9 661.0,139.9 662.1,133.5 663.4,128.0 664.7,124.3 666.3,121.4 668.2,119.6 672.5,117.0 674.7,115.1 676.7,112.3 678.6,108.2 680.0,103.2 681.5,96.2 685.7,66.2 686.4,62.5 687.1,60.9 687.5,61.1 687.9,61.9 688.8,66.7 692.6,103.4 693.7,111.2 695.0,117.9 696.1,121.8 697.2,124.7 701.9,133.6 704.1,139.1 706.3,147.2 710.1,165.2 711.1,168.0 711.8,169.0 712.3,168.9 712.7,168.4 713.8,165.1 717.6,143.3 719.6,134.7 720.7,131.7 721.8,129.7 723.1,128.5 724.6,128.1 726.2,128.8 727.8,130.6 729.3,133.3 730.8,137.1 733.1,146.4 737.3,169.2 738.2,172.0 738.8,172.5 739.2,172.3 739.9,170.7 740.6,167.4 744.4,140.8 745.5,134.8 746.8,129.7 748.3,125.9 750.1,123.4 751.2,122.6 752.3,122.2 754.8,122.2 757.8,123.4 760.1,125.5 762.1,128.8 764.0,133.6 765.4,139.4 766.7,146.4 770.7,176.6 771.5,179.8 771.8,180.6 772.2,180.6 772.9,178.5 773.6,173.8 777.1,138.3 778.2,129.6 779.5,122.2 780.6,117.7 781.7,114.5 786.4,104.8 788.4,99.6 790.4,92.3 793.7,78.1 795.0,74.1 795.7,73.1 796.3,73.1 797.0,74.0 797.7,76.1 801.9,97.1 803.9,104.5 805.8,108.2 806.9,109.3 808.0,109.6" stroke="#c4c4c4" stroke-width="1"/>
<path d="M86.0,142.0 87.8,136.5 88.7,134.8 89.8,133.5 90.7,132.9 91.8,133.0 92.9,133.6 94.0,134.9 95.9,138.3 97.7,143.7 102.8,164.8 103.7,167.0 104.2,167.6 104.6,167.6 105.5,166.3 106.4,163.3 110.3,143.3 112.3,135.7 113.6,132.7 114.8,131.0 116.3,130.3 117.8,130.7 119.0,131.9 120.1,133.5 121.4,136.2 122.5,139.2 124.7,147.7 128.5,166.6 129.4,169.4 130.0,170.1 130.3,170.2 131.3,168.7 132.2,165.2 136.0,141.7 138.2,132.4 139.5,129.2 140.9,127.2 142.6,126.3 144.2,126.6 145.9,127.7 147.5,129.9 149.0,132.8 150.2,136.4 152.8,146.8 157.2,170.5 158.3,173.9 158.8,174.5 159.2,174.4 160.1,172.5 161.0,168.4 165.0,139.5 166.3,132.1 167.4,127.5 168.7,123.7 170.1,121.0 171.8,119.2 175.8,116.2 177.8,114.2 179.8,111.0 181.4,107.0 182.7,102.6 184.0,96.6 188.4,67.0 189.1,63.7 189.8,62.3 190.2,62.5 190.6,63.3 191.5,67.9 195.1,101.0 196.2,108.9 197.5,115.6 198.6,119.6 199.9,122.9 205.2,131.7 207.7,138.0 209.7,145.7 213.4,164.8 214.8,170.3 215.4,171.1 215.9,171.0 216.5,170.1 217.2,167.5 221.4,140.9 222.5,135.5 223.8,130.8 225.1,127.7 226.3,125.9 227.8,124.9 229.6,124.8 231.8,125.9 233.8,128.1 235.6,131.6 237.1,135.7 238.4,140.7 239.7,147.2 243.5,172.2 244.2,175.3 245.0,176.5 245.3,176.3 245.7,175.6 246.6,171.3 250.4,138.9 251.5,131.8 252.6,126.4 253.9,122.0 255.2,119.1 256.5,117.0 261.0,111.0 262.5,108.2 263.9,104.4 265.2,99.9 266.5,94.2 270.5,70.9 271.4,67.6 272.1,66.6 272.9,67.5 273.8,71.2 278.2,102.8 279.6,110.0 281.1,114.7 282.5,117.6 284.4,119.5 286.0,120.5 291.3,122.6 294.0,124.7 295.3,126.4 296.4,128.3 298.4,133.6 299.7,138.7 300.8,144.6 304.8,175.6 305.5,179.7 306.3,181.5 306.6,181.3 307.0,180.4 307.9,175.0 311.6,136.7 312.7,128.0 313.9,120.7 315.0,116.3 316.1,113.0 320.3,104.2 322.3,99.0 324.2,92.8 327.6,78.9 328.5,76.1 329.5,74.4 330.0,74.2 330.5,74.5 331.8,77.5 335.8,96.2 337.8,103.2 338.8,105.3 339.9,107.0 340.8,107.7 341.9,107.9 343.1,107.4 344.4,106.0 345.7,103.8 346.8,101.3 349.2,93.3 353.2,75.5 354.3,72.7 354.8,72.2 355.4,72.3 356.1,73.6 357.0,76.8 360.7,96.7 362.5,104.2 363.6,107.2 364.7,109.2 365.9,110.5 367.2,110.8 368.7,110.2 370.3,108.4 371.8,105.7 373.1,102.4 375.4,93.4 379.5,72.9 380.4,70.0 380.9,69.3 381.3,69.3 382.2,71.0 383.1,74.9 386.8,98.5 388.8,107.8 390.0,111.4 391.5,113.9 393.0,115.1 394.8,115.4 395.9,115.0 397.0,114.4 399.0,112.2 400.8,108.8 402.3,104.8 403.5,99.9 404.8,93.6 408.8,67.8 409.6,65.0 409.9,64.3 410.3,64.0 411.0,65.3 411.9,69.8 415.6,100.4 416.7,107.7 418.0,113.9 419.1,117.6 420.3,120.6 421.8,123.0 426.5,128.9 428.0,131.6 429.5,135.4 430.9,140.6 432.2,146.5 436.2,170.3 436.9,173.0 437.7,174.2 438.0,174.1 438.6,173.0 439.5,168.9 443.3,139.8 444.4,133.4 445.7,127.9 447.0,124.2 448.6,121.3 450.4,119.5 454.8,116.8 456.8,115.0 458.8,112.2 460.7,108.0 462.1,103.0 463.4,97.0 464.9,87.9 467.8,66.2 468.5,62.6 469.2,61.1 469.6,61.3 470.0,62.1 470.9,67.0 474.5,101.9 475.6,110.0 476.9,116.9 478.0,121.1 479.1,124.1 484.0,133.2 486.4,139.2 488.6,147.5 492.2,165.0 493.0,167.5 493.7,169.0 494.2,169.4 494.8,168.9 495.9,165.7 499.9,142.6 502.1,133.5 503.2,130.8 504.3,129.0 505.6,127.9 507.0,127.7 508.7,128.5 510.3,130.3 511.8,133.0 513.2,136.8 514.5,141.4 515.8,147.2 519.8,169.6 520.7,172.4 521.3,173.0 521.6,172.8 522.3,171.1 523.3,166.7 527.5,137.2 528.7,131.1 530.0,127.0 531.8,123.5 532.9,122.3 534.0,121.6 535.5,121.1 537.1,120.9 541.3,121.3 544.8,122.6 547.4,124.8 549.4,128.0 551.2,133.0 552.5,138.2 553.7,145.5 557.6,177.7 558.3,182.1 559.0,183.9 559.4,183.5 559.8,182.3 560.5,177.5 564.1,135.7 565.4,125.0 566.7,117.4 568.5,110.6 574.2,97.3 579.5,80.5 580.6,78.2 581.5,77.3 582.0,77.3 582.6,77.8 583.9,80.5 587.7,94.6 589.5,99.9 591.3,103.0 592.2,103.7 593.2,103.9 594.1,103.7 595.2,102.8 597.2,99.5 599.4,93.7 603.7,78.7 605.0,76.3 605.6,76.0 606.1,76.2 607.0,77.6 607.9,80.2 611.4,94.6 613.2,100.6 614.1,102.7 615.2,104.4 616.2,105.2 617.2,105.5 618.3,105.1 619.4,104.1 620.5,102.4 621.6,100.1 623.8,93.7 628.0,77.6 629.1,75.1 629.7,74.5 630.2,74.6 631.1,75.8 632.0,78.6 635.7,95.4 637.5,102.1 638.4,104.3 639.5,106.2 640.6,107.2 641.7,107.5 643.0,107.0 644.3,105.7 645.5,103.5 646.6,101.0 648.8,93.8 653.0,75.8 654.1,73.1 654.7,72.6 655.0,72.6 655.9,74.0 656.8,77.2 660.5,96.5 662.3,103.9 663.4,106.8 664.5,108.7 665.6,109.8 666.9,110.2 668.3,109.6 669.8,108.1 671.3,105.5 672.5,102.3 674.9,93.6 678.9,73.6 679.8,70.8 680.4,70.0 680.8,69.9 681.1,70.2 681.7,71.3 682.6,74.9 686.2,97.6 688.2,106.8 689.5,110.5 690.8,112.7 692.3,114.0 693.7,114.3 694.6,114.1 695.7,113.5 697.5,111.6 699.2,108.7 700.8,104.4 702.1,99.7 703.4,93.6 707.4,69.2 708.3,66.0 708.7,65.5 709.0,65.4 709.8,66.9 710.7,71.3 714.3,100.2 715.4,107.0 716.7,112.8 718.0,116.7 719.4,119.6 721.1,121.6 724.7,124.6 726.6,126.6 728.4,129.5 730.0,133.4 731.5,138.5 732.9,145.5 737.1,173.2 737.9,176.2 738.2,176.9 738.6,177.2 739.3,175.9 740.2,171.1 743.9,139.1 745.0,131.7 746.3,125.3 747.4,121.5 748.6,118.4 749.9,116.2 754.1,110.2 755.6,107.3 756.9,103.9 759.4,93.8 763.4,71.7 764.2,69.0 764.9,67.8 765.4,67.9 765.8,68.6 766.7,72.1 770.9,100.9 772.2,107.4 773.5,111.9 774.9,115.2 776.7,117.4 778.9,118.3 781.9,118.2 784.8,116.8 787.2,114.6 789.2,111.2 790.8,106.7 792.3,100.8 793.5,93.6 797.6,63.0 798.3,59.9 798.6,59.3 799.0,59.3 799.7,61.7 800.5,66.8 803.4,97.7 804.9,110.3 806.3,118.9 808.0,125.1" stroke="#c4c4c4" stroke-width="1"/>
<path d="M86.0,142.0 87.8,136.5 88.7,134.8 89.8,133.5 90.7,132.9 91.8,133.0 92.9,133.6 94.0,134.9 95.9,138.3 97.7,143.7 102.8,164.8 103.7,167.0 104.2,167.6 104.6,167.6 105.0,167.3 105.5,166.3 106.4,163.3 110.3,143.3 112.3,135.7 113.6,132.7 114.8,131.0 115.6,130.5 116.3,130.3 117.0,130.4 117.8,130.7 119.0,131.9 120.1,133.5 121.4,136.2 122.5,139.2 124.7,147.7 128.5,166.6 129.4,169.4 130.0,170.1 130.3,170.2 130.7,169.9 131.3,168.7 132.2,165.2 136.0,141.7 137.1,136.4 138.2,132.4 139.5,129.2 140.9,127.2 141.7,126.6 142.6,126.3 144.2,126.6 145.9,127.7 147.5,129.9 149.0,132.8 150.4,137.0 151.7,141.9 152.8,147.3 156.6,170.4 157.5,173.7 158.1,174.5 158.5,174.4 159.2,172.8 159.9,169.3 163.7,139.8 165.0,132.3 166.3,127.0 167.6,123.5 169.0,120.9 170.5,119.4 174.5,116.6 176.3,114.9 178.2,112.5 179.8,109.2 181.4,104.4 182.9,98.6 187.7,74.0 188.6,71.2 189.1,70.4 189.5,70.3 190.0,70.8 190.6,72.0 191.7,76.6 196.0,106.4 197.1,112.4 198.4,117.9 200.4,123.8 204.6,132.4 206.4,137.0 208.5,143.7 212.8,161.5 213.9,164.4 214.5,165.1 215.0,165.4 215.6,165.1 216.1,164.3 217.4,160.6 221.4,141.0 223.1,134.3 224.7,129.5 225.4,128.3 226.2,127.8 226.9,127.7 227.6,127.9 230.9,134.7 234.7,141.4 240.2,149.7 241.3,150.9 242.4,151.3 242.8,151.1 243.1,150.5 244.0,147.4 246.8,132.4 247.7,128.4 249.7,123.2 250.4,121.8 251.0,121.3 252.3,121.4 253.7,122.4 259.6,128.4 263.4,132.7 265.0,133.9 266.3,134.1 267.4,133.4 268.7,131.4 272.7,121.9 274.2,119.0 275.4,117.5 276.0,117.3 276.7,117.4 278.2,118.2 279.6,119.7 284.6,126.9 286.2,129.0 287.7,130.2 289.1,130.5 289.7,130.3 290.4,129.7 291.9,127.4 296.4,116.5 298.1,113.3 298.8,112.4 299.5,111.7 300.1,111.6 301.0,111.6 302.8,112.6 304.8,114.5 311.2,123.0 313.9,128.7 319.6,143.5 322.0,149.0 323.2,151.3 324.5,153.0 325.8,154.0 326.9,154.2 328.0,153.3 329.3,151.0 330.7,147.3 334.7,135.4 336.0,132.6 337.1,131.2 337.8,130.9 339.9,131.0 349.3,132.7 350.8,132.7 352.1,132.2 353.4,131.2 354.8,129.7 360.7,122.5 370.0,113.3 373.8,110.1 375.4,109.2 377.1,108.6 378.9,108.3 380.4,108.8 382.2,110.3 386.2,115.1 387.8,116.7 388.8,117.3 389.7,117.6 390.4,117.6 391.3,117.3 393.0,116.0 394.6,113.9 400.6,103.7 405.0,97.6 406.1,96.3 407.2,95.8 407.9,96.0 408.7,96.6 409.6,97.8 410.5,99.6 412.1,103.7 415.8,113.9 417.6,118.0 420.5,121.9 424.2,126.1 426.0,127.8 427.8,129.1 429.5,129.7 430.9,129.8 431.6,129.4 432.6,128.5 436.2,123.5 437.1,122.8 438.0,122.7 438.9,123.4 439.9,124.9 443.7,133.3 444.6,134.5 445.3,134.8 445.9,134.7 446.6,134.2 447.9,132.5 449.4,129.5 452.6,122.0 454.5,118.9 457.0,116.8 460.3,114.5 462.9,113.0 465.2,112.0 468.0,111.3 470.3,111.3 472.2,112.2 476.7,115.3 478.0,115.8 479.1,115.8 480.6,115.4 482.0,114.5 486.8,110.4 488.6,109.1 490.4,108.4 491.9,108.4 493.5,109.4 495.3,111.3 501.0,119.9 503.0,122.4 504.8,124.0 505.7,124.4 506.5,124.4 507.6,123.9 508.8,122.2 510.3,119.4 514.1,110.9 515.2,109.1 516.3,107.9 517.4,107.6 518.7,108.2 520.2,109.6 523.3,113.6 524.5,115.0 526.0,115.8 527.5,115.7 529.3,114.7 531.3,112.8 537.5,104.7 539.7,102.2 541.9,100.6 543.7,100.1 545.5,100.5 547.5,101.9 549.7,104.1 556.1,111.7 558.1,113.4 559.8,114.2 561.2,114.4 562.7,113.8 564.3,112.3 568.9,107.3 570.2,106.5 571.4,106.2 572.4,106.4 573.4,107.2 578.0,112.3 579.8,113.6 580.9,113.7 582.0,113.3 585.5,110.7 586.8,110.0 587.7,109.8 589.0,109.9 590.6,110.4 592.4,111.4 598.4,115.9 600.5,117.2 602.3,118.0 604.1,118.4 605.0,118.3 606.1,117.8 608.3,115.9 610.3,113.5 615.1,106.9 617.4,104.2 619.4,102.8 620.3,102.6 621.3,102.7 623.1,103.6 625.1,105.8 627.1,108.6 631.7,116.0 633.9,119.0 635.7,120.6 636.6,121.1 637.5,121.2 638.8,121.0 640.1,120.3 645.9,115.5 647.2,114.8 648.5,114.4 649.5,114.6 650.6,115.1 654.1,118.1 655.4,119.0 656.5,119.4 657.2,119.3 657.9,118.8 658.9,117.7 662.3,112.0 663.1,111.2 663.8,110.9 664.5,110.9 665.4,111.5 668.9,115.1 669.8,115.5 670.5,115.4 671.4,114.6 672.5,113.1 676.0,106.0 677.5,103.5 678.7,102.3 680.0,102.3 681.3,102.8 682.8,103.8 685.7,106.9 688.6,111.1 695.2,121.8 698.3,126.0 699.7,127.5 701.0,128.5 702.3,129.2 703.6,129.5 705.2,129.1 706.9,128.1 708.9,126.2 713.1,121.3 714.9,119.5 716.9,118.1 718.5,117.6 719.4,117.9 720.4,118.4 724.4,122.6 726.0,123.6 727.7,123.6 731.9,122.0 732.8,122.0 733.3,122.2 734.8,123.7 738.2,128.9 739.3,129.7 740.2,129.7 741.3,128.9 742.4,127.2 747.2,116.8 748.3,114.9 749.2,113.8 749.9,113.4 750.8,113.4 754.1,115.0 755.4,115.1 756.9,114.4 760.0,112.1 761.4,111.5 762.0,111.7 762.7,112.4 764.0,114.8 768.2,127.0 769.4,130.1 770.5,131.8 771.1,132.2 771.6,132.3 772.6,131.9 773.6,130.6 778.0,122.1 779.1,120.5 780.0,119.6 780.8,119.4 782.2,119.7 787.9,122.2 789.3,122.6 790.4,122.6 791.3,122.2 792.4,121.3 797.2,116.0 798.3,115.3 799.4,115.1 800.3,115.5 801.2,116.4 802.1,117.8 803.2,120.0 805.4,125.9 808.0,134.7" stroke="#00ff00" stroke-width="3"/>
<path d="M86.0,141.7 87.8,136.3 88.7,134.6 89.6,133.5 90.6,133.0 91.7,132.9 92.8,133.5 93.8,134.7 95.5,137.7 96.9,141.5 98.8,148.1 102.4,163.9 103.5,166.8 104.1,167.5 104.4,167.6 104.8,167.4 105.3,166.5 106.4,162.9 110.3,142.9 112.3,135.4 113.6,132.5 114.8,130.9 115.6,130.4 116.3,130.3 117.0,130.4 117.8,130.8 119.0,132.0 120.1,133.7 121.4,136.4 122.5,139.5 124.5,147.2 128.3,166.2 129.3,169.1 129.8,170.0 130.2,170.2 130.5,170.0 131.1,169.0 132.0,165.6 135.8,142.2 136.9,136.8 138.0,132.7 139.3,129.4 140.7,127.3 141.5,126.7 142.4,126.3 143.3,126.3 144.2,126.6 145.9,127.8 147.5,130.0 149.0,133.0 150.4,137.3 151.7,142.3 152.8,147.7 156.6,170.7 157.5,173.9 157.9,174.4 158.3,174.5 159.0,173.1 159.9,168.8 163.7,139.1 164.8,132.5 165.9,127.6 167.2,123.6 168.5,121.1 169.9,119.3 173.8,116.3 175.6,114.3 177.4,111.3 178.9,107.6 180.5,101.6 182.0,94.1 186.2,65.4 186.9,62.8 187.3,62.2 187.7,62.1 188.2,62.6 188.9,64.4 189.7,67.3 190.6,72.3 191.7,80.2 194.4,104.5 195.3,110.5 196.4,116.1 197.5,120.1 198.6,122.9 199.9,125.4 203.9,131.9 205.2,134.7 206.4,138.3 208.5,146.0 212.1,165.9 212.8,169.1 213.6,171.2 214.1,171.8 214.7,171.5 215.2,170.2 215.8,168.0 216.8,161.7 220.0,140.4 221.0,134.8 222.3,130.0 223.6,126.8 225.1,124.7 226.0,124.0 226.9,123.6 227.8,123.4 228.9,123.5 230.2,124.0 231.4,124.8 232.5,125.8 233.6,127.1 235.5,130.4 237.1,135.0 238.4,140.1 239.7,146.8 243.7,174.6 244.4,177.5 244.8,178.2 245.1,178.3 245.5,177.8 245.9,176.6 246.6,172.5 250.2,138.9 251.3,131.0 252.6,124.3 253.7,120.3 254.8,117.4 256.1,114.9 260.1,108.3 261.4,105.4 262.7,101.8 264.8,93.3 268.5,74.6 269.8,70.3 270.3,69.7 270.9,69.8 271.4,70.8 272.1,73.4 273.1,78.3 276.3,99.4 277.4,104.7 278.5,108.6 279.6,111.4 280.9,113.5 282.4,114.6 283.1,114.8 284.0,114.8 284.9,114.5 286.0,113.8 287.8,111.8 289.5,108.9 291.1,104.4 292.4,99.6 293.7,93.4 297.5,69.3 298.4,65.7 298.8,65.0 299.2,64.8 299.5,65.1 299.9,66.0 300.8,70.3 304.6,101.2 305.7,107.9 306.8,113.0 308.1,117.2 309.4,119.9 311.0,122.2 314.5,125.7 316.1,127.7 317.8,130.6 319.2,134.2 320.7,139.3 322.2,146.2 326.3,172.4 327.1,175.0 327.4,175.6 327.8,175.8 328.2,175.3 328.5,174.4 329.5,169.8 333.1,139.7 334.2,132.7 335.5,126.7 336.8,122.6 338.0,119.9 339.5,117.8 342.8,114.3 344.4,112.2 346.1,109.2 347.5,105.4 349.0,100.2 350.3,94.2 354.5,68.6 355.2,66.0 355.5,65.3 355.9,65.1 356.3,65.4 356.6,66.3 357.6,70.6 361.4,101.0 362.5,107.7 363.6,112.7 364.9,116.8 366.3,119.8 367.8,121.7 371.6,125.2 373.2,127.2 375.1,130.3 376.5,133.9 378.0,139.1 379.5,146.1 383.7,173.0 384.4,175.7 384.7,176.4 385.1,176.5 385.5,176.0 385.8,175.0 386.8,170.2 390.4,139.1 391.5,131.9 392.8,125.8 393.9,122.1 395.1,119.2 396.4,117.1 399.7,113.1 401.2,110.9 402.6,108.0 403.9,104.7 405.4,99.5 406.6,93.6 410.7,70.3 411.6,67.2 411.9,66.7 412.3,66.5 412.7,66.9 413.2,68.3 414.1,72.8 417.2,96.4 418.5,104.6 419.8,110.6 421.1,114.6 422.5,117.6 424.2,119.5 426.0,120.6 430.9,122.8 432.4,123.8 433.7,125.1 434.9,126.8 436.0,128.8 437.9,133.7 439.3,139.7 440.6,146.9 444.6,177.4 445.3,180.4 445.7,181.0 445.9,181.0 446.2,180.5 446.6,179.3 447.3,174.7 451.0,137.2 452.1,128.6 453.4,121.3 454.5,116.9 455.6,113.7 459.9,104.7 461.9,99.5 464.0,92.5 467.4,78.0 468.3,75.2 469.1,73.9 469.6,73.5 470.2,73.8 470.7,74.7 471.4,76.8 472.5,81.5 475.4,96.3 477.5,103.7 478.4,105.9 479.5,107.7 480.6,108.6 481.7,108.8 482.9,108.3 484.2,107.0 485.5,104.8 486.8,101.8 488.0,97.8 489.1,93.6 493.3,74.3 494.4,71.6 495.0,71.3 495.3,71.4 496.1,72.8 497.0,76.2 500.6,97.2 502.5,105.1 503.6,108.2 504.8,110.6 506.1,111.8 506.8,112.1 507.6,112.1 508.3,111.9 509.2,111.4 510.9,109.5 512.3,106.9 513.8,103.0 515.0,98.5 516.1,93.6 520.2,71.6 521.1,68.6 521.6,67.9 522.0,67.9 522.7,69.3 523.6,73.3 527.5,99.9 528.6,105.7 529.8,110.8 531.3,114.4 532.9,116.7 533.8,117.4 534.9,117.9 536.2,118.1 537.5,118.0 539.0,117.6 540.4,116.9 541.7,115.9 543.0,114.6 545.0,111.3 546.8,106.3 548.3,100.4 549.5,93.3 553.4,64.4 554.1,60.9 554.5,60.0 554.8,59.8 555.2,60.3 555.6,61.6 556.3,66.0 559.9,102.7 561.0,111.1 562.3,118.3 563.4,122.6 564.5,125.8 569.1,134.9 571.3,140.6 573.3,147.9 576.7,163.1 577.5,165.5 578.2,167.0 578.7,167.5 579.3,167.4 579.8,166.5 580.6,164.4 581.7,159.6 584.8,143.1 586.8,135.5 587.7,133.3 588.8,131.5 589.9,130.6 591.2,130.4 592.4,130.9 593.9,132.5 595.2,134.7 596.4,137.9 597.7,142.0 598.8,146.4 603.0,166.9 604.1,169.8 604.7,170.2 605.0,170.0 605.7,168.5 606.7,164.8 610.3,142.3 612.3,133.4 613.6,129.9 614.9,127.8 616.3,126.6 617.8,126.4 618.7,126.7 619.6,127.3 621.4,129.3 623.1,132.3 624.5,136.3 625.8,141.0 627.1,147.0 630.9,170.1 631.8,173.5 632.2,174.2 632.6,174.4 632.9,174.2 633.3,173.4 634.2,169.5 638.1,140.2 639.1,133.6 640.4,127.9 641.7,124.1 643.3,121.1 645.0,119.4 649.2,116.4 651.2,114.5 653.2,111.5 654.8,107.7 656.3,102.7 657.6,96.6 659.0,87.6 662.0,66.5 662.7,63.1 663.1,62.2 663.4,61.8 663.8,62.0 664.1,62.9 665.1,67.7 668.7,101.6 669.8,109.5 671.1,116.3 672.2,120.3 673.3,123.2 674.6,125.8 678.6,132.5 679.8,135.4 680.9,138.5 683.1,147.0 686.8,165.4 688.1,169.6 688.6,170.3 689.2,170.2 689.7,169.3 690.4,166.7 691.5,160.9 694.6,141.3 695.7,136.0 696.8,132.1 697.9,129.3 699.2,127.3 700.6,126.2 702.1,126.1 703.0,126.4 704.1,127.1 705.9,129.2 707.6,132.3 709.0,136.3 710.3,141.1 711.6,147.3 715.4,170.7 716.3,174.1 716.7,174.7 717.1,174.8 717.4,174.5 717.8,173.6 718.7,169.3 722.5,139.3 723.6,132.8 724.7,127.8 726.0,123.8 727.5,120.9 729.1,118.9 732.9,115.8 734.8,113.8 736.6,111.0 738.2,107.0 739.9,101.3 741.3,94.0 745.4,67.2 746.1,64.1 746.5,63.2 746.8,63.0 747.2,63.3 747.5,64.2 748.5,68.8 752.1,101.1 753.2,108.6 754.5,115.1 755.6,118.9 756.9,122.1 758.1,124.3 762.3,130.5 763.8,133.5 765.1,137.0 767.3,145.5 771.1,166.5 771.8,169.7 772.6,171.7 773.1,172.3 773.6,171.9 774.2,170.5 774.7,168.3 775.7,162.9 778.8,141.0 779.9,135.1 780.9,130.6 782.0,127.4 783.3,125.0 784.8,123.4 786.6,122.6 788.1,122.6 789.7,123.0 791.2,123.7 792.6,124.9 793.9,126.3 795.0,128.0 797.0,132.8 798.5,138.1 799.7,144.5 801.0,152.8 803.8,173.8 804.5,177.8 805.0,179.5 805.4,179.8 805.8,179.5 806.3,177.7 807.0,173.1 808.0,164.8" stroke="#0000ff" stroke-width="2.4"/>
<path d="M86.0,142.0 87.8,136.5 88.7,134.8 89.8,133.5 90.7,132.9 91.8,133.0 92.9,133.6 94.0,134.9 95.9,138.3 97.7,143.7 102.8,164.8 103.7,167.0 104.2,167.6 104.6,167.6 105.0,167.3 105.5,166.3 106.4,163.3 110.3,143.3 112.3,135.7 113.6,132.7 114.8,131.0 115.6,130.5 116.3,130.3 117.0,130.4 117.8,130.7 119.0,131.9 120.1,133.5 121.4,136.2 122.5,139.2 124.7,147.7 128.5,166.6 129.4,169.4 130.0,170.1 130.3,170.2 130.7,169.9 131.3,168.7 132.2,165.2 136.0,141.7 137.1,136.4 138.2,132.4 139.5,129.2 140.9,127.2 141.7,126.6 142.6,126.3 144.2,126.6 145.9,127.7 147.5,129.9 149.0,132.8 150.4,137.0 151.7,141.9 152.8,147.3 156.6,170.4 157.5,173.7 158.1,174.5 158.5,174.4 159.2,172.8 160.1,168.1 163.7,139.8 164.8,133.2 165.9,128.3 167.2,124.3 168.9,121.2 170.5,119.3 174.7,116.3 176.7,114.3 178.7,111.1 180.4,107.2 181.6,102.7 182.9,96.8 184.4,87.9 187.3,67.0 188.0,63.5 188.4,62.5 188.7,62.1 189.1,62.2 189.5,63.0 190.4,67.6 194.2,102.5 195.3,110.1 196.4,115.7 197.5,119.8 198.8,123.2 200.1,125.6 203.9,131.8 205.2,134.5 206.4,138.1 208.5,145.7 212.1,164.5 212.8,167.6 213.6,169.9 214.1,170.7 214.7,170.7 215.2,169.9 215.9,167.4 217.0,161.6 220.1,141.4 221.2,135.9 222.3,131.8 223.6,128.5 224.9,126.6 226.3,125.5 228.0,125.3 228.9,125.6 230.0,126.3 232.0,128.5 233.6,131.5 235.3,136.0 236.6,140.9 237.8,147.3 241.7,171.6 242.4,174.6 242.8,175.4 243.1,175.8 243.5,175.6 243.9,174.9 244.8,170.8 248.6,139.6 249.7,132.6 251.0,126.6 252.3,122.6 253.5,119.9 255.0,117.8 258.3,114.3 259.9,112.2 261.6,109.2 263.0,105.4 264.5,100.2 265.8,94.2 270.0,68.6 270.7,66.0 271.1,65.3 271.4,65.1 271.8,65.4 272.1,66.3 273.1,70.6 276.9,101.0 278.0,107.7 279.1,112.8 280.4,116.8 281.8,119.8 283.3,121.7 287.1,125.3 288.8,127.2 290.6,130.4 292.0,134.1 293.5,139.2 295.0,146.3 299.0,172.3 299.7,175.3 300.1,176.1 300.4,176.5 300.8,176.2 301.2,175.4 302.1,171.1 305.9,138.9 307.0,131.8 308.1,126.4 309.2,122.6 310.5,119.5 311.9,117.1 315.2,113.1 316.7,110.9 318.1,108.1 319.6,104.2 320.9,99.6 322.2,93.7 326.2,70.3 326.9,67.6 327.6,66.5 328.0,66.6 328.4,67.2 329.3,70.6 333.6,102.5 335.1,109.9 336.6,114.7 338.0,117.7 339.7,119.6 341.3,120.7 346.2,123.0 347.5,123.9 348.8,125.2 350.1,126.9 351.2,128.9 353.0,133.9 354.3,139.0 355.4,144.8 356.6,153.4 359.4,175.0 360.1,179.0 360.5,180.2 360.8,180.7 361.2,180.5 361.6,179.7 362.5,174.4 366.1,137.3 367.4,127.6 368.7,120.8 369.6,117.3 370.7,114.1 375.1,105.3 377.1,100.2 379.1,93.2 382.9,77.0 384.0,74.0 384.6,73.2 384.9,73.1 385.3,73.2 385.8,74.0 386.9,77.3 390.8,96.8 392.6,103.8 393.5,106.1 394.6,108.0 395.7,109.1 397.0,109.5 398.3,109.0 399.7,107.5 401.0,105.3 402.3,102.2 403.5,98.2 404.6,93.8 408.8,73.9 409.9,71.0 410.5,70.6 410.8,70.8 411.6,72.2 412.5,75.7 416.1,97.5 418.0,105.7 419.1,108.9 420.3,111.4 421.8,112.8 423.3,113.1 424.2,112.9 425.1,112.3 426.7,110.5 428.4,107.5 429.8,103.7 431.1,99.1 432.4,93.2 436.4,70.2 437.3,67.3 437.9,66.8 438.2,67.0 438.9,68.8 439.9,73.5 442.8,95.5 444.1,103.7 445.3,109.8 446.8,114.5 448.4,117.6 450.3,119.4 452.3,120.3 457.9,122.1 459.6,123.0 461.0,124.2 462.3,125.7 463.4,127.5 464.5,129.9 465.4,132.5 466.7,137.4 468.0,144.2 469.2,153.1 472.2,177.5 472.9,181.3 473.3,182.3 473.6,182.6 474.0,182.1 474.4,180.7 475.1,175.8 478.7,135.9 480.0,125.7 481.3,118.6 482.2,114.9 483.3,111.6 487.5,102.4 489.3,97.6 494.8,78.4 495.7,76.4 496.3,75.8 496.6,75.6 497.2,75.8 497.7,76.5 498.8,79.3 502.6,95.6 504.5,101.5 505.4,103.5 506.3,104.9 507.2,105.7 508.3,106.0 509.4,105.7 510.5,104.7 511.6,103.1 512.7,100.8 513.8,97.9 515.0,93.7 518.3,80.4 519.4,76.6 520.5,74.3 521.1,74.0 521.6,74.2 522.5,75.9 523.4,79.1 526.7,95.1 528.6,102.1 529.5,104.6 530.6,106.6 531.7,107.8 532.9,108.2 534.2,107.8 535.5,106.5 536.8,104.4 538.0,101.4 540.4,93.3 544.4,75.3 545.5,72.4 546.1,71.9 546.4,71.9 546.8,72.3 547.4,73.4 548.3,76.7 551.9,96.9 553.7,104.5 554.8,107.6 556.1,109.8 557.4,111.0 558.7,111.2 559.4,111.0 560.3,110.4 561.8,108.7 563.2,106.0 564.5,102.7 565.8,98.3 566.9,93.6 570.9,72.6 571.8,69.7 572.4,68.9 572.7,68.9 573.4,70.1 574.4,73.6 578.2,98.8 579.1,103.7 580.2,108.2 581.5,111.9 582.9,114.5 583.7,115.2 584.6,115.8 585.5,116.1 586.4,116.1 587.5,115.9 588.8,115.2 589.9,114.2 591.0,113.0 592.8,109.8 594.4,105.4 595.9,99.7 597.2,93.1 601.0,67.3 601.9,63.7 602.3,63.1 602.6,63.1 603.4,64.8 604.1,68.8 607.8,100.9 608.9,108.4 610.1,114.9 611.2,118.8 612.5,121.9 613.8,124.2 616.7,128.2 618.2,130.6 619.6,133.7 620.9,137.2 623.1,145.9 626.7,166.1 627.5,169.5 628.2,171.7 628.7,172.4 629.3,172.1 629.8,170.9 630.4,168.8 631.5,162.3 634.8,139.3 636.0,132.9 637.3,128.4 638.8,125.2 640.4,123.3 641.5,122.6 642.6,122.3 643.9,122.3 645.2,122.5 646.6,123.1 647.9,123.8 649.2,125.0 650.3,126.3 652.3,129.9 653.9,134.7 655.2,140.0 656.5,147.1 660.3,175.8 661.0,179.3 661.6,180.3 662.0,180.1 662.3,179.3 663.2,174.2 667.1,136.1 668.2,128.1 669.4,121.3 670.5,117.3 671.6,114.3 676.0,105.7 678.0,100.6 680.2,92.8 683.9,76.7 684.8,73.9 685.7,72.6 686.2,72.6 686.8,73.4 687.9,76.8 691.7,97.0 693.5,104.2 694.6,107.1 695.7,108.9 696.8,110.0 698.1,110.3 699.4,109.8 700.8,108.3 702.3,105.8 703.6,102.7 704.8,98.5 705.9,94.1 710.1,73.3 711.2,70.3 711.8,69.8 712.1,70.0 712.9,71.5 713.8,75.2 717.4,98.1 719.4,107.2 720.7,110.7 722.0,112.9 723.5,114.2 724.2,114.4 725.1,114.4 726.0,114.1 727.1,113.4 728.9,111.4 730.6,108.4 732.0,104.5 733.3,99.8 734.6,93.7 738.6,69.1 739.5,65.9 740.1,65.3 740.4,65.5 741.2,67.4 741.9,71.2 745.5,100.3 746.6,107.1 747.9,112.9 749.2,116.9 750.7,119.7 752.1,121.6 755.9,124.9 757.8,127.0 759.6,130.1 761.1,133.8 762.5,138.9 764.0,146.0 768.0,172.4 768.7,175.5 769.1,176.4 769.4,176.8 769.8,176.7 770.2,175.9 771.1,171.6 774.9,138.8 776.0,131.6 777.1,126.1 778.2,122.2 779.5,119.1 780.9,116.6 784.0,112.5 785.5,110.3 787.0,107.3 788.2,103.8 789.5,99.2 790.8,93.4 794.6,71.6 795.4,68.7 795.9,67.5 796.5,67.2 797.0,67.9 798.1,72.3 801.8,98.6 803.6,108.5 804.5,111.8 805.6,114.8 806.7,116.7 808.0,118.2" stroke="#000" stroke-width="2.4"/>
</g>
<g clip-path="url(#cb)" fill="none" stroke-linejoin="round">
<path d="M322.7,252.3 325.4,235.6 326.3,231.0 326.9,229.1 327.4,228.0 327.8,227.9 328.0,228.0 328.4,228.6 329.1,231.3 329.8,235.5 333.5,263.6 334.4,268.8 335.5,273.6 336.9,277.7 338.6,280.4 340.4,282.0 345.3,284.4 347.7,286.2 348.8,287.4 349.9,289.0 351.7,293.0 353.2,297.9 354.6,304.9 356.1,314.4 359.0,337.4 359.7,341.2 360.1,342.2 360.5,342.6 360.8,342.3 361.2,341.3 362.1,335.7 365.8,298.4 366.9,290.0 368.1,282.9 369.2,278.7 370.3,275.6 374.7,266.7 376.7,261.5 378.7,254.5 382.2,239.5 383.1,236.5 383.8,235.0 384.4,234.6 384.9,234.8 385.5,235.6 386.2,237.7 387.3,242.5 390.4,258.7 392.4,266.1 393.3,268.2 394.4,270.0 395.5,270.9 396.6,271.1 397.9,270.5 399.2,269.2 400.4,267.1 401.7,264.1 403.0,260.1 404.1,255.8 407.4,239.8 408.5,235.2 409.2,233.1 409.7,232.0 410.3,231.5 410.8,231.7 411.6,233.1 412.5,236.8 416.1,260.0 417.0,264.6 418.1,269.0 419.4,272.6 420.7,274.8 422.2,276.0 422.9,276.3 423.8,276.3 424.7,276.1 425.8,275.4 427.6,273.4 429.3,270.6 430.9,266.2 432.2,261.5 433.5,255.3 437.5,230.3 438.4,227.0 438.8,226.4 439.1,226.4 439.9,227.9 440.8,232.5 444.4,262.1 445.5,269.0 446.8,274.9 448.1,278.9 449.4,281.6 450.8,283.6 454.5,287.1 456.1,289.1 457.9,292.3 459.4,296.0 460.8,301.2 462.3,308.2 466.3,333.9 467.1,336.9 467.4,337.7 467.8,338.0 468.1,337.7 468.5,336.9 469.4,332.6 473.3,300.8 474.4,293.7 475.4,288.5 476.7,284.2 478.0,281.3 479.5,279.1 482.7,275.3 484.2,273.3 485.7,270.6 487.1,266.9 488.6,261.8 489.9,255.9 494.1,230.8 495.0,227.7 495.3,227.2 495.7,227.2 496.4,228.7 497.3,233.2 501.0,261.7 502.1,268.4 503.4,274.1 504.6,277.9 506.1,280.7 507.7,282.7 511.9,285.8 514.0,287.8 515.8,290.6 517.4,294.5 518.9,299.5 520.2,305.5 521.6,314.5 524.4,334.3 525.3,338.7 525.6,339.6 526.0,340.0 526.4,339.8 526.7,338.9 527.6,334.2 531.3,300.7 532.4,292.9 533.7,286.2 534.8,282.2 535.9,279.3 537.1,276.8 541.1,270.3 542.4,267.6 543.7,264.0 546.1,254.8 549.7,235.7 551.0,231.4 551.5,230.8 552.1,231.0 552.6,232.0 553.4,234.8 557.4,260.3 558.5,265.9 559.8,270.7 561.0,273.9 562.3,275.8 563.8,276.8 565.4,276.9 566.5,276.6 567.6,275.9 569.6,273.6 571.4,270.1 572.9,266.0 574.2,261.0 575.5,254.6 579.3,229.7 580.2,226.2 580.6,225.6 580.9,225.5 581.3,226.0 581.7,227.1 582.6,231.9 586.2,262.7 587.3,269.8 588.6,275.8 589.7,279.5 591.0,282.4 592.4,284.6 595.7,288.5 597.2,290.5 598.6,293.3 600.1,297.1 601.6,302.3 602.8,308.3 606.8,332.3 607.8,335.5 608.1,336.1 608.5,336.2 608.9,335.8 609.2,335.0 610.1,330.7 614.0,301.3 615.1,294.9 616.2,290.0 617.4,286.1 619.1,283.0 620.9,281.1 625.3,278.1 627.3,276.2 629.3,273.2 630.9,269.3 632.4,264.2 633.7,258.1 635.1,249.0 637.9,228.7 638.8,224.2 639.1,223.2 639.5,222.9 639.9,223.2 640.2,224.1 641.2,229.2 644.8,263.7 645.9,271.6 647.2,278.3 648.3,282.4 649.4,285.3 650.6,287.9 654.5,294.5 655.8,297.4 656.8,300.6 658.7,307.4 662.3,325.5 663.8,330.8 664.5,331.8 665.1,331.6 665.6,330.7 666.3,328.2 667.4,322.4 670.5,303.2 671.6,298.0 672.7,294.1 673.8,291.4 675.1,289.5 676.4,288.5 677.8,288.4 678.7,288.7 679.7,289.3 681.3,291.2 682.9,294.3 684.4,298.2 685.7,302.9 687.0,309.0 690.8,331.8 691.7,335.1 692.1,335.8 692.4,336.0 692.8,335.7 693.2,334.9 694.1,331.0 697.9,302.0 699.0,295.5 700.3,289.9 701.6,286.2 703.2,283.2 705.0,281.4 709.8,278.7 712.0,276.8 714.0,274.0 715.8,269.8 717.3,264.8 718.5,258.7 720.0,249.5 722.9,227.3 723.8,223.0 724.2,222.2 724.6,222.0 724.9,222.6 725.3,223.8 726.0,228.1 729.7,263.9 730.8,272.1 732.0,279.2 733.1,283.4 734.2,286.4 739.0,295.5 741.2,301.1 743.4,309.2 747.0,326.1 747.7,328.6 748.5,330.2 749.0,330.5 749.6,330.2 750.1,329.1 750.8,326.6 754.8,304.3 755.9,299.4 756.9,296.2 758.0,293.4 759.0,291.7 760.3,290.6 761.6,290.4 762.3,290.6 763.2,291.3 764.7,293.0 766.2,295.7 767.4,299.0 768.7,303.4 769.8,308.2 774.0,330.4 774.9,333.2 775.5,333.7 775.8,333.6 776.6,332.1 777.5,328.0 781.1,303.2 782.2,297.3 783.3,292.8 784.6,289.3 786.1,286.8 787.7,285.4 788.6,285.1 789.7,285.1 791.9,285.8 794.1,287.6 795.9,290.2 797.6,293.8 799.2,299.3 800.7,306.2 801.9,314.2 804.5,333.0 805.4,338.1 806.1,340.1 806.5,340.2 806.7,340.1 807.2,338.6 808.0,334.6" stroke="#ff0000" stroke-width="2.1"/>
<path d="M86.0,303.7 87.8,298.2 88.7,296.5 89.8,295.2 90.7,294.7 91.8,294.7 92.9,295.3 94.0,296.6 95.9,300.1 97.7,305.4 102.8,326.7 103.7,328.9 104.2,329.4 104.6,329.4 105.0,329.1 105.5,328.1 106.4,325.1 110.3,305.1 112.3,297.4 113.6,294.4 114.8,292.7 115.6,292.2 116.3,292.0 117.0,292.1 117.8,292.4 119.0,293.6 120.1,295.2 121.4,297.9 122.5,301.0 124.7,309.5 128.5,328.5 129.4,331.2 130.0,332.0 130.3,332.1 130.7,331.8 131.3,330.6 132.2,327.0 136.0,303.4 137.1,298.1 138.2,294.1 139.5,290.9 140.9,288.9 141.7,288.3 142.6,288.0 143.3,288.0 144.2,288.2 145.9,289.4 147.5,291.6 149.0,294.5 150.4,298.7 151.7,303.7 152.8,309.0 156.6,332.2 157.5,335.6 158.1,336.4 158.5,336.3 159.2,334.7 160.1,330.0 163.7,301.5 164.8,294.9 165.9,290.0 167.2,286.0 168.9,282.8 170.5,281.0 174.7,277.9 176.7,275.9 178.7,272.8 180.4,268.7 181.6,264.3 182.9,258.4 184.4,249.4 187.3,228.4 188.0,225.0 188.4,223.9 188.7,223.5 189.1,223.6 189.5,224.4 190.4,229.0 194.2,264.1 195.3,271.7 196.4,277.4 197.5,281.5 198.8,284.8 200.1,287.2 203.9,293.5 205.2,296.3 206.4,299.8 208.5,307.4 212.1,326.3 212.8,329.5 213.6,331.7 214.1,332.6 214.7,332.6 215.2,331.7 215.9,329.3 217.0,323.4 220.1,303.1 221.2,297.7 222.3,293.5 223.6,290.2 224.9,288.3 226.3,287.2 228.0,287.0 228.9,287.3 230.0,288.0 232.0,290.2 233.6,293.2 235.3,297.7 236.6,302.7 237.8,309.1 241.7,333.5 242.4,336.4 242.8,337.3 243.1,337.7 243.5,337.5 243.9,336.8 244.8,332.7 248.6,301.4 249.7,294.3 251.0,288.3 252.3,284.2 253.5,281.5 255.0,279.4 258.3,275.9 259.9,273.8 261.6,270.8 263.0,267.0 264.5,261.8 265.8,255.8 270.0,230.0 270.7,227.4 271.1,226.7 271.4,226.5 271.8,226.8 272.1,227.7 273.1,232.0 276.9,262.6 278.0,269.3 279.1,274.4 280.4,278.5 281.8,281.5 283.3,283.4 287.1,287.0 288.8,288.9 290.6,292.1 292.0,295.8 293.5,300.9 295.0,308.0 299.0,334.1 299.7,337.2 300.1,338.0 300.4,338.4 300.8,338.1 301.2,337.3 302.1,333.0 305.9,300.6 307.0,293.5 308.1,288.1 309.2,284.3 310.5,281.2 311.9,278.8 315.2,274.7 316.7,272.6 318.1,269.7 319.6,265.8 320.9,261.2 322.2,255.2 326.2,231.8 326.9,229.1 327.6,227.9 328.0,228.0 328.4,228.6 329.3,232.1 333.6,264.0 335.1,271.5 336.6,276.3 338.0,279.3 339.7,281.2 341.3,282.3 346.2,284.7 347.5,285.6 348.8,286.9 350.1,288.6 351.2,290.6 353.0,295.6 354.3,300.7 355.4,306.5 356.6,315.2 359.4,336.9 360.1,340.9 360.5,342.1 360.8,342.6 361.2,342.5 361.6,341.6 362.5,336.3 366.1,299.0 367.4,289.3 368.7,282.5 369.6,278.9 370.7,275.8 375.1,266.9 377.1,261.8 379.1,254.8 382.9,238.4 384.0,235.4 384.6,234.7 384.9,234.5 385.3,234.7 385.8,235.4 386.9,238.8 390.8,258.3 392.6,265.3 393.5,267.7 394.6,269.6 395.7,270.7 397.0,271.1 398.3,270.6 399.7,269.0 401.0,266.9 402.3,263.8 403.5,259.7 404.6,255.4 408.8,235.3 409.9,232.5 410.5,232.1 410.8,232.2 411.6,233.6 412.5,237.2 416.1,259.1 418.0,267.3 419.1,270.5 420.3,273.0 421.8,274.4 423.3,274.7 424.2,274.5 425.1,273.9 426.7,272.1 428.4,269.1 429.8,265.2 431.1,260.6 432.4,254.7 436.4,231.6 437.3,228.7 437.9,228.2 438.2,228.4 438.9,230.3 439.9,234.9 442.8,257.0 444.1,265.3 445.3,271.4 446.8,276.1 448.4,279.2 450.3,281.0 452.3,282.0 457.9,283.8 459.6,284.7 461.0,285.9 462.3,287.4 463.4,289.2 464.5,291.6 465.4,294.2 466.7,299.1 468.0,305.9 469.2,314.9 472.2,339.4 472.9,343.3 473.3,344.3 473.6,344.5 474.0,344.0 474.4,342.6 475.1,337.7 478.7,297.6 480.0,287.4 481.3,280.2 482.2,276.6 483.3,273.2 487.5,264.0 489.3,259.2 494.8,239.9 495.7,237.9 496.3,237.2 496.6,237.1 497.2,237.2 497.7,238.0 498.8,240.8 502.6,257.1 504.5,263.1 505.4,265.1 506.3,266.5 507.2,267.3 508.3,267.6 509.4,267.3 510.5,266.3 511.6,264.6 512.7,262.4 513.8,259.5 515.0,255.2 518.3,241.9 519.4,238.1 520.5,235.8 521.1,235.4 521.6,235.7 522.5,237.4 523.4,240.6 526.7,256.6 528.6,263.7 529.5,266.2 530.6,268.2 531.7,269.4 532.9,269.8 534.2,269.4 535.5,268.1 536.8,266.0 538.0,263.0 540.4,254.9 544.4,236.8 545.5,233.9 546.1,233.3 546.4,233.4 546.8,233.7 547.4,234.8 548.3,238.1 551.9,258.4 553.7,266.1 554.8,269.2 556.1,271.4 557.4,272.6 558.7,272.8 559.4,272.6 560.3,272.0 561.8,270.3 563.2,267.6 564.5,264.2 565.8,259.8 566.9,255.1 570.9,234.0 571.8,231.1 572.4,230.3 572.7,230.3 573.4,231.5 574.4,235.1 578.2,260.4 579.1,265.2 580.2,269.8 581.5,273.5 582.9,276.1 583.7,276.9 584.6,277.5 585.5,277.7 586.4,277.8 587.5,277.5 588.8,276.8 589.9,275.9 591.0,274.6 592.8,271.4 594.4,266.9 595.9,261.3 597.2,254.6 601.0,228.7 601.9,225.1 602.3,224.5 602.6,224.5 603.4,226.2 604.1,230.2 607.8,262.4 608.9,270.0 610.1,276.5 611.2,280.4 612.5,283.6 613.8,285.9 616.7,289.9 618.2,292.3 619.6,295.4 620.9,299.0 623.1,307.6 626.7,328.0 627.5,331.3 628.2,333.6 628.7,334.3 629.3,334.0 629.8,332.8 630.4,330.6 631.5,324.2 634.8,301.0 636.0,294.6 637.3,290.1 638.8,286.9 640.4,285.0 641.5,284.3 642.6,284.0 643.9,284.0 645.2,284.2 646.6,284.7 647.9,285.5 649.2,286.6 650.3,287.9 652.3,291.6 653.9,296.4 655.2,301.7 656.5,308.9 660.3,337.7 661.0,341.2 661.6,342.2 662.0,342.1 662.3,341.2 663.2,336.1 667.1,297.9 668.2,289.8 669.4,283.0 670.5,278.9 671.6,275.9 676.0,267.3 678.0,262.2 680.2,254.3 683.9,238.2 684.8,235.4 685.7,234.0 686.2,234.1 686.8,234.8 687.9,238.3 691.7,258.6 693.5,265.8 694.6,268.7 695.7,270.5 696.8,271.6 698.1,271.9 699.4,271.4 700.8,269.9 702.3,267.4 703.6,264.2 704.8,260.1 705.9,255.6 710.1,234.7 711.2,231.7 711.8,231.3 712.1,231.4 712.9,232.9 713.8,236.7 717.4,259.7 719.4,268.8 720.7,272.3 722.0,274.5 723.5,275.8 724.2,276.0 725.1,276.0 726.0,275.8 727.1,275.1 728.9,273.0 730.6,270.0 732.0,266.1 733.3,261.3 734.6,255.2 738.6,230.6 739.5,227.3 740.1,226.7 740.4,226.9 741.2,228.8 741.9,232.6 745.5,261.8 746.6,268.7 747.9,274.5 749.2,278.5 750.7,281.4 752.1,283.2 755.9,286.6 757.8,288.7 759.6,291.8 761.1,295.5 762.5,300.7 764.0,307.7 768.0,334.2 768.7,337.4 769.1,338.3 769.4,338.7 769.8,338.6 770.2,337.8 771.1,333.5 774.9,300.5 776.0,293.3 777.1,287.8 778.2,283.9 779.5,280.7 780.9,278.2 784.0,274.2 785.5,271.9 787.0,268.9 788.2,265.4 789.5,260.8 790.8,254.9 794.6,233.0 795.4,230.1 795.9,228.9 796.5,228.6 797.0,229.3 798.1,233.7 801.8,260.2 803.6,270.1 804.5,273.4 805.6,276.4 806.7,278.4 808.0,279.8" stroke="#000" stroke-width="2.1"/>
</g>
<g stroke="#000" stroke-width="2" fill="none"><rect x="86.0" y="39.5" width="722.0" height="323.3"/><line x1="86.0" y1="200.8" x2="808.0" y2="200.8"/>
<line x1="76.0" y1="66.4" x2="86.0" y2="66.4"/>
<line x1="76.0" y1="227.8" x2="86.0" y2="227.8"/>
<line x1="76.0" y1="120.2" x2="86.0" y2="120.2"/>
<line x1="76.0" y1="281.8" x2="86.0" y2="281.8"/>
<line x1="76.0" y1="173.9" x2="86.0" y2="173.9"/>
<line x1="76.0" y1="335.8" x2="86.0" y2="335.8"/>
<line x1="86.0" y1="362.8" x2="86.0" y2="372.8"/>
<line x1="126.1" y1="362.8" x2="126.1" y2="368.3"/>
<line x1="166.2" y1="362.8" x2="166.2" y2="372.8"/>
<line x1="206.3" y1="362.8" x2="206.3" y2="368.3"/>
<line x1="246.4" y1="362.8" x2="246.4" y2="372.8"/>
<line x1="286.6" y1="362.8" x2="286.6" y2="368.3"/>
<line x1="326.7" y1="362.8" x2="326.7" y2="372.8"/>
<line x1="366.8" y1="362.8" x2="366.8" y2="368.3"/>
<line x1="406.9" y1="362.8" x2="406.9" y2="372.8"/>
<line x1="447.0" y1="362.8" x2="447.0" y2="368.3"/>
<line x1="487.1" y1="362.8" x2="487.1" y2="372.8"/>
<line x1="527.2" y1="362.8" x2="527.2" y2="368.3"/>
<line x1="567.3" y1="362.8" x2="567.3" y2="372.8"/>
<line x1="607.4" y1="362.8" x2="607.4" y2="368.3"/>
<line x1="647.6" y1="362.8" x2="647.6" y2="372.8"/>
<line x1="687.7" y1="362.8" x2="687.7" y2="368.3"/>
<line x1="727.8" y1="362.8" x2="727.8" y2="372.8"/>
<line x1="767.9" y1="362.8" x2="767.9" y2="368.3"/>
<line x1="808.0" y1="362.8" x2="808.0" y2="372.8"/>
</g>
<text font-size="22.5" text-anchor="end" transform="translate(69.3 74.0) scale(1 1.11)">15</text>
<text font-size="22.5" text-anchor="end" transform="translate(69.3 235.4) scale(1 1.11)">15</text>
<text font-size="22.5" text-anchor="end" transform="translate(69.3 127.8) scale(1 1.11)">0</text>
<text font-size="22.5" text-anchor="end" transform="translate(69.3 289.4) scale(1 1.11)">0</text>
<text font-size="22.5" text-anchor="end" transform="translate(69.3 181.5) scale(1 1.11)">-15</text>
<text font-size="22.5" text-anchor="end" transform="translate(69.3 343.4) scale(1 1.11)">-15</text>
<text font-size="23.5" text-anchor="middle" transform="translate(86.0 397.8) scale(1 1.07)">0</text>
<text font-size="23.5" text-anchor="middle" transform="translate(166.2 397.8) scale(1 1.07)">2</text>
<text font-size="23.5" text-anchor="middle" transform="translate(246.4 397.8) scale(1 1.07)">4</text>
<text font-size="23.5" text-anchor="middle" transform="translate(326.7 397.8) scale(1 1.07)">6</text>
<text font-size="23.5" text-anchor="middle" transform="translate(406.9 397.8) scale(1 1.07)">8</text>
<text font-size="23.5" text-anchor="middle" transform="translate(487.1 397.8) scale(1 1.07)">10</text>
<text font-size="23.5" text-anchor="middle" transform="translate(567.3 397.8) scale(1 1.07)">12</text>
<text font-size="23.5" text-anchor="middle" transform="translate(647.6 397.8) scale(1 1.07)">14</text>
<text font-size="23.5" text-anchor="middle" transform="translate(727.8 397.8) scale(1 1.07)">16</text>
<text font-size="23.5" text-anchor="middle" transform="translate(808.0 397.8) scale(1 1.07)">18</text>
<g><path d="M7.3,101.2 C9.5,104.2 12.5,106.5 15.5,108.4 C17.3,109.7 18.8,111.3 19.4,113" fill="none" stroke="#000" stroke-width="1.3"/><circle cx="6.9" cy="100.5" r="1.45"/><circle cx="19.3" cy="113.4" r="1.4"/><path d="M6.5,112.3 C6.2,110 6.6,108.6 8.6,107.4 C11,106.3 15,105.4 18.5,104.5 C20.3,104 20.8,102.8 19.9,101.9 C19.2,101.2 18.2,100.9 17.3,100.8" fill="none" stroke="#000" stroke-width="2.2" stroke-linecap="round"/></g><g transform="translate(0 162)"><path d="M7.3,101.2 C9.5,104.2 12.5,106.5 15.5,108.4 C17.3,109.7 18.8,111.3 19.4,113" fill="none" stroke="#000" stroke-width="1.3"/><circle cx="6.9" cy="100.5" r="1.45"/><circle cx="19.3" cy="113.4" r="1.4"/><path d="M6.5,112.3 C6.2,110 6.6,108.6 8.6,107.4 C11,106.3 15,105.4 18.5,104.5 C20.3,104 20.8,102.8 19.9,101.9 C19.2,101.2 18.2,100.9 17.3,100.8" fill="none" stroke="#000" stroke-width="2.2" stroke-linecap="round"/></g>
<text x="414" y="432.8" font-size="31">Λ<tspan font-size="20.5" dy="8.1">max</tspan><tspan dy="-8.1">t</tspan></text>
<rect x="100.5" y="453.5" width="700" height="79" fill="none" stroke="#3a3a3a" stroke-width="1"/>
<line x1="120" y1="480" x2="178.5" y2="480" stroke="#000" stroke-width="2.2"/>
<line x1="120" y1="511.5" x2="178.5" y2="511.5" stroke="#c4c4c4" stroke-width="1"/>
<line x1="303.5" y1="480" x2="363.5" y2="480" stroke="#00ff00" stroke-width="2.5"/>
<line x1="302.5" y1="511.5" x2="361.5" y2="511.5" stroke="#0000ff" stroke-width="2.2"/>
<line x1="577.5" y1="480" x2="636.5" y2="480" stroke="#ff0000" stroke-width="2.2"/>
<text x="185.5" y="488.5" font-size="25.5">True</text>
<text x="185.5" y="520.8" font-size="25.5">Analogs</text>
<text x="369" y="488.5" font-size="25.5">Ensemble mean</text>
<text x="369" y="520.8" font-size="25.5">The optimal anolog</text>
<text x="643" y="488.5" font-size="25.5">RC prediction</text>
<text x="889.5" y="28.6" font-size="24.5">(b)</text>
<defs><clipPath id="cpb"><rect x="967" y="40.8" width="450" height="198"/></clipPath></defs>
<g clip-path="url(#cpb)" fill="none" stroke-linejoin="round">
<path d="M966.6,225.7 971.4,225.1 973.2,225.2 975.3,225.6 977.7,225.1 979.5,224.9 981.3,225.0 984.0,225.6 987.5,225.1 992.7,225.5 995.3,225.5 998.9,225.2 1001.6,225.4 1006.2,224.7 1008.1,224.8 1010.3,225.3 1012.6,224.7 1014.2,224.5 1016.2,224.6 1019.0,225.2 1021.4,224.7 1023.7,224.7 1024.1,224.5 1024.3,224.7 1024.7,223.6 1025.5,220.7 1028.3,207.3 1028.9,205.2 1029.2,204.7 1029.5,205.2 1029.8,207.2 1031.2,222.6 1031.6,225.2 1031.9,224.6 1032.2,222.7 1034.2,204.4 1034.5,202.7 1034.8,202.1 1035.2,202.7 1036.1,205.2 1039.7,218.8 1040.6,221.6 1041.2,222.7 1041.5,222.8 1042.0,221.9 1044.1,214.6 1044.5,213.5 1044.8,213.3 1045.3,215.5 1046.2,224.6 1046.3,225.3 1046.5,225.6 1046.6,225.5 1047.4,223.1 1049.7,212.5 1050.1,211.0 1050.6,210.5 1051.3,211.2 1052.7,213.4 1057.6,223.8 1058.7,225.4 1059.0,225.8 1059.3,225.9 1059.7,224.7 1060.3,220.6 1063.5,187.9 1064.2,181.9 1064.7,180.2 1064.8,180.3 1065.1,181.4 1066.0,187.6 1069.5,219.5 1070.1,223.2 1070.4,224.0 1070.5,223.9 1071.0,222.2 1071.6,218.3 1073.1,205.6 1077.7,154.4 1079.2,139.5 1080.6,128.8 1081.0,126.3 1081.3,125.5 1081.5,125.6 1081.8,127.5 1082.5,137.5 1085.7,198.6 1086.4,210.8 1087.0,217.6 1087.3,219.0 1087.6,219.5 1090.1,220.0 1090.8,220.5 1093.4,225.2 1093.7,225.6 1094.0,225.7 1094.3,224.8 1094.6,222.2 1095.2,213.0 1098.6,134.7 1099.5,119.1 1100.0,115.8 1100.4,119.2 1101.2,132.4 1104.5,210.5 1105.1,220.5 1105.5,223.7 1105.8,222.9 1106.4,218.1 1107.8,202.9 1109.4,179.5 1114.2,104.4 1115.9,84.7 1116.5,79.4 1116.8,77.8 1116.9,77.6 1117.2,79.1 1117.5,82.8 1118.3,96.0 1121.7,179.0 1122.5,194.0 1123.1,202.8 1123.7,206.2 1124.6,208.2 1125.6,210.0 1126.4,210.8 1128.9,211.8 1129.5,212.4 1130.1,214.8 1131.7,223.4 1132.1,224.6 1132.6,222.3 1133.3,212.0 1136.6,144.8 1137.4,132.6 1137.7,129.1 1138.0,127.5 1138.1,127.8 1138.4,130.5 1138.9,137.9 1141.9,208.1 1142.6,221.3 1143.1,224.8 1143.2,224.9 1143.4,224.6 1143.7,223.5 1145.0,215.3 1150.6,168.5 1152.1,158.6 1152.7,155.9 1153.0,155.3 1153.3,155.8 1153.6,157.1 1154.8,165.4 1159.6,211.7 1160.8,221.0 1161.4,224.4 1161.7,225.3 1161.8,225.4 1162.0,225.1 1162.3,224.1 1163.2,218.8 1167.4,183.9 1168.4,176.9 1169.2,173.8 1169.3,173.7 1169.5,173.8 1169.8,174.6 1170.7,178.5 1174.9,202.9 1175.7,205.9 1176.0,206.3 1176.3,205.9 1177.3,200.5 1178.7,190.5 1183.9,142.9 1185.3,133.9 1185.7,131.8 1186.0,131.4 1186.3,132.4 1186.8,136.1 1187.8,148.4 1192.2,213.2 1193.1,222.6 1193.4,224.6 1193.5,225.0 1193.7,225.0 1194.1,223.5 1194.9,219.2 1196.5,206.9 1198.5,188.7 1204.3,129.1 1206.3,113.8 1207.2,108.4 1207.6,107.0 1207.9,107.9 1208.1,109.4 1208.8,122.6 1212.3,209.5 1212.9,218.7 1213.2,220.5 1213.5,221.0 1214.3,220.4 1215.3,219.1 1215.8,217.8 1216.2,215.5 1217.6,205.7 1221.0,175.6 1221.9,169.4 1222.7,165.9 1223.0,165.6 1223.3,166.1 1224.5,170.2 1225.8,176.4 1229.7,196.7 1231.1,201.9 1231.5,203.1 1231.8,203.3 1232.1,202.7 1232.4,201.5 1233.3,196.1 1236.9,168.2 1237.7,164.1 1238.0,163.3 1238.1,163.3 1238.7,165.3 1239.8,172.0 1244.1,209.7 1245.2,217.3 1246.1,221.9 1246.4,222.4 1246.7,221.8 1247.6,217.2 1251.6,186.3 1252.7,180.0 1253.0,178.8 1253.3,178.3 1253.8,180.1 1254.4,185.8 1257.2,221.3 1257.7,224.7 1257.8,225.2 1258.0,225.4 1258.1,225.3 1258.6,224.1 1259.3,221.2 1261.0,212.9 1265.9,181.2 1267.6,171.6 1269.1,164.7 1269.7,162.6 1270.0,162.1 1270.3,162.7 1270.4,163.5 1271.2,170.5 1274.0,210.2 1275.2,223.4 1275.5,225.1 1275.7,225.4 1275.8,225.3 1277.0,219.5 1277.3,218.8 1277.5,218.8 1277.9,220.1 1279.0,225.0 1279.3,225.5 1279.6,224.8 1280.0,222.1 1281.1,212.7 1282.4,197.1 1286.2,149.1 1287.5,135.9 1288.0,132.8 1288.3,131.9 1288.4,132.1 1288.7,134.4 1289.5,145.8 1292.8,215.3 1293.4,223.3 1293.5,224.3 1293.7,224.7 1293.8,224.6 1294.3,222.4 1294.9,218.0 1296.4,203.8 1300.9,149.5 1302.4,133.1 1303.9,120.4 1304.4,117.8 1304.5,117.4 1304.7,117.4 1305.3,121.4 1306.3,134.6 1310.5,204.1 1311.4,214.7 1311.7,216.9 1312.0,217.6 1312.5,216.3 1313.1,213.1 1314.7,201.6 1316.5,185.8 1322.2,130.9 1324.2,116.2 1325.1,111.1 1325.5,109.8 1325.8,110.4 1326.1,112.5 1327.2,124.6 1332.0,204.4 1333.2,219.8 1333.6,223.8 1333.9,224.9 1334.1,224.8 1334.4,223.6 1335.3,216.7 1339.1,175.7 1340.0,167.5 1340.7,162.6 1340.9,162.2 1341.0,162.1 1341.2,162.2 1341.9,165.0 1345.8,189.4 1346.7,193.7 1347.0,194.5 1347.2,194.6 1347.3,194.5 1348.2,190.9 1349.6,182.5 1354.5,144.2 1355.7,137.4 1356.0,136.2 1356.3,135.6 1356.6,136.4 1356.9,138.6 1357.7,147.3 1360.7,195.3 1361.7,209.3 1362.2,213.5 1362.5,214.8 1362.6,215.0 1362.9,214.8 1363.5,213.5 1364.7,209.8 1366.4,203.7 1367.0,200.9 1367.4,197.6 1369.1,181.0 1373.1,133.4 1374.3,122.1 1374.9,117.8 1375.2,116.7 1375.4,116.8 1375.5,117.6 1375.7,119.3 1376.2,128.7 1378.6,206.2 1379.2,220.6 1379.6,224.9 1379.8,225.0 1380.1,224.2 1380.7,221.4 1383.2,206.2 1389.4,161.5 1391.0,151.9 1391.6,149.2 1392.1,148.0 1392.4,148.5 1392.5,149.4 1393.3,157.0 1396.9,212.2 1397.6,221.1 1398.2,225.0 1398.4,225.1 1398.5,224.8 1399.0,222.8 1400.5,212.8 1402.0,199.9 1406.5,157.2 1408.0,146.0 1409.0,140.8 1409.2,140.6 1409.3,140.9 1409.5,141.5 1410.2,148.3 1412.9,185.2 1414.0,195.9 1414.3,197.2 1414.6,197.8 1415.3,198.1 1417.0,198.4" stroke="#0000ff" stroke-width="2.0"/>
<path d="M966.6,225.8 966.9,224.9 968.7,226.3 971.1,225.1 974.4,223.8 975.5,223.6 976.1,223.7 976.7,224.0 977.4,225.0 978.0,226.1 978.2,226.1 979.7,223.3 980.1,222.8 980.7,222.6 981.6,222.8 984.3,224.9 986.9,226.3 988.7,225.2 991.2,223.3 992.1,223.0 992.7,223.2 993.3,223.8 994.5,226.2 995.7,224.0 996.2,223.5 996.6,223.4 997.4,223.6 999.9,225.6 1001.6,226.3 1005.6,225.6 1007.0,225.0 1009.1,223.6 1009.9,223.5 1010.3,223.7 1010.8,224.3 1011.5,226.2 1013.0,222.1 1013.5,221.4 1013.9,221.3 1014.7,221.7 1017.4,225.1 1018.3,225.8 1019.3,226.3 1021.0,226.0 1022.2,226.0 1023.5,226.3 1024.1,226.1 1025.9,224.9 1028.2,222.6 1028.9,222.1 1029.4,222.3 1029.8,222.9 1030.9,226.1 1031.9,222.6 1032.4,221.7 1032.8,221.3 1033.1,221.4 1033.6,221.8 1035.2,224.2 1036.1,225.2 1037.0,225.8 1037.8,226.0 1039.0,226.0 1040.2,225.6 1041.5,224.9 1043.6,223.3 1044.7,222.9 1045.3,223.1 1045.7,223.5 1047.1,226.2 1048.3,223.7 1048.8,223.3 1049.2,223.2 1050.0,223.5 1052.5,225.6 1054.3,226.3 1057.5,225.9 1058.8,225.6 1060.2,224.9 1062.1,223.4 1062.9,223.2 1063.6,223.8 1064.5,226.1 1064.7,226.0 1066.0,221.9 1066.5,221.2 1066.9,221.1 1067.7,221.6 1069.5,224.2 1070.4,225.2 1071.4,225.9 1072.5,226.3 1073.5,226.2 1074.9,226.3 1075.9,225.9 1077.3,225.2 1079.7,223.1 1080.4,222.8 1080.9,223.0 1081.3,223.6 1082.4,226.3 1083.6,222.8 1084.0,222.1 1084.5,222.0 1085.2,222.4 1087.2,224.9 1088.4,225.9 1089.3,226.3 1090.4,226.2 1091.7,226.3 1093.2,225.8 1094.6,225.0 1095.6,224.2 1097.7,222.2 1098.6,221.8 1099.1,222.0 1099.5,222.7 1100.7,226.2 1101.8,222.8 1102.2,222.1 1102.7,221.9 1103.4,222.3 1104.8,223.9 1105.8,224.9 1106.7,225.4 1107.8,225.6 1109.1,225.4 1110.6,224.9 1112.1,224.1 1114.7,222.3 1115.6,222.1 1116.0,222.4 1116.5,223.1 1117.7,226.2 1118.7,223.1 1119.2,222.4 1119.6,222.0 1120.1,222.0 1120.5,222.3 1122.2,223.9 1123.5,224.8 1125.0,225.2 1126.8,225.3 1130.3,225.2 1132.3,224.8 1133.6,224.1 1135.7,222.3 1136.3,222.1 1136.8,222.3 1137.2,223.1 1138.1,226.2 1139.2,221.3 1139.6,220.0 1140.2,219.4 1140.5,219.5 1141.0,219.9 1143.4,223.6 1144.4,224.5 1145.8,225.0 1147.3,225.1 1150.0,224.4 1150.9,224.4 1151.8,224.9 1152.8,226.2 1154.5,223.3 1155.1,222.7 1155.7,222.6 1156.7,223.1 1158.8,225.1 1160.5,226.3 1165.6,223.1 1166.8,222.7 1167.4,222.9 1168.0,223.4 1169.3,226.2 1170.5,223.8 1171.1,223.2 1171.6,223.0 1172.4,223.2 1175.4,225.2 1178.4,226.0 1179.1,225.7 1179.4,225.0 1181.5,213.3 1182.3,211.3 1183.3,209.5 1183.6,209.7 1183.9,210.9 1185.3,222.0 1185.6,223.7 1185.7,224.1 1185.9,224.0 1186.5,220.2 1187.8,206.5 1188.3,204.3 1188.6,204.7 1189.0,207.0 1191.3,223.9 1191.6,225.2 1191.9,225.6 1192.2,225.2 1192.8,223.2 1194.3,216.5 1200.3,180.2 1201.8,172.7 1202.5,169.8 1203.0,168.6 1203.1,168.6 1203.3,169.0 1203.4,170.1 1203.7,174.9 1205.2,215.6 1205.5,221.4 1205.7,222.9 1205.8,223.1 1206.1,219.4 1206.4,211.9 1208.1,157.0 1208.4,151.0 1208.5,149.8 1208.7,149.7 1209.0,152.0 1209.6,161.3 1212.1,213.9 1212.6,220.9 1213.1,225.0 1213.2,225.5 1213.4,225.6 1213.5,225.4 1215.3,220.5 1215.6,219.9 1215.9,219.8 1216.5,220.9 1218.0,225.2 1218.3,225.8 1218.6,225.8 1219.2,223.7 1221.0,212.5 1221.3,211.3 1221.6,211.0 1222.1,212.9 1223.4,224.0 1223.7,225.3 1223.9,225.4 1224.2,224.5 1224.5,222.6 1226.0,209.5 1226.6,205.6 1227.3,203.4 1229.7,198.6 1230.2,196.7 1230.6,193.3 1232.7,169.6 1237.8,99.0 1239.3,83.2 1239.9,78.5 1240.2,77.4 1240.5,78.3 1240.8,81.4 1241.7,95.9 1245.3,176.5 1246.2,193.0 1246.8,200.9 1247.3,203.0 1247.7,202.2 1248.8,197.9 1251.5,184.5 1252.1,182.4 1252.4,182.0 1252.5,182.2 1252.8,184.1 1253.1,188.3 1254.7,217.4 1255.1,221.1 1255.4,219.1 1255.7,214.4 1257.2,181.0 1257.8,173.1 1258.0,172.9 1258.1,173.3 1258.6,176.9 1261.4,214.7 1262.0,220.5 1262.3,221.9 1262.5,221.9 1263.1,219.1 1263.8,213.0 1267.6,172.3 1268.6,163.2 1269.2,160.3 1269.5,161.4 1269.8,165.3 1271.9,215.0 1272.4,222.3 1272.5,223.2 1272.7,223.0 1273.3,210.5 1274.9,153.1 1275.2,147.1 1275.4,145.8 1275.5,145.7 1276.0,148.9 1276.7,158.8 1280.0,214.4 1280.8,223.1 1281.1,224.4 1281.2,224.2 1282.0,216.8 1283.2,197.6 1287.7,106.6 1288.7,91.1 1289.0,88.0 1289.3,86.5 1289.6,87.5 1289.9,90.5 1290.8,104.3 1295.4,200.3 1296.4,217.7 1296.9,222.9 1297.2,224.4 1297.5,223.6 1297.8,221.3 1298.8,209.2 1302.9,145.7 1303.8,133.9 1304.5,126.5 1305.0,124.5 1305.1,124.7 1305.4,125.8 1307.7,143.1 1308.1,145.5 1308.4,146.0 1308.7,145.1 1309.0,143.0 1310.8,124.9 1311.3,121.4 1311.6,120.4 1311.9,121.3 1312.2,123.8 1313.1,135.3 1316.8,201.7 1317.7,214.9 1318.5,222.4 1318.6,223.1 1318.8,223.3 1318.9,223.1 1319.7,219.7 1323.4,191.3 1324.3,186.0 1324.6,185.0 1324.8,185.0 1325.1,187.0 1325.2,189.6 1326.3,218.7 1326.6,223.3 1326.7,223.6 1327.0,221.0 1327.3,215.8 1328.7,184.7 1329.3,175.2 1329.6,174.1 1330.0,175.3 1332.0,187.0 1332.6,189.7 1332.9,190.1 1333.0,189.9 1333.5,188.0 1334.5,180.7 1335.8,169.9 1341.2,112.6 1342.7,100.9 1343.1,98.6 1343.3,98.2 1343.4,98.1 1343.7,99.4 1344.0,102.2 1344.8,112.0 1348.2,173.2 1349.1,186.3 1349.7,192.4 1349.9,193.1 1350.0,193.4 1350.2,193.3 1350.9,189.6 1352.0,181.7 1355.0,155.5 1355.9,149.6 1356.2,148.4 1356.3,148.3 1356.5,148.6 1356.9,152.9 1357.4,160.5 1359.9,215.7 1360.4,222.2 1360.7,223.8 1361.1,219.6 1361.6,210.4 1364.0,146.2 1364.4,138.3 1364.7,136.7 1365.2,141.5 1365.6,151.1 1368.0,215.2 1368.5,222.5 1368.6,223.6 1368.8,223.7 1368.9,222.9 1369.5,215.1 1370.3,200.9 1373.7,121.5 1374.5,109.2 1374.8,106.0 1375.1,104.9 1375.4,105.4 1375.7,106.7 1376.8,113.2 1379.6,136.3 1381.0,153.7 1384.4,205.1 1385.5,217.6 1386.2,224.1 1386.5,224.8 1386.7,224.5 1387.4,218.7 1390.7,176.0 1391.5,168.6 1391.8,166.9 1391.9,166.8 1392.2,168.9 1392.5,174.1 1394.2,216.7 1394.5,221.9 1394.6,223.2 1394.8,223.4 1395.1,220.2 1395.4,213.7 1397.2,161.2 1397.5,155.3 1397.8,152.6 1397.9,152.5 1398.2,153.7 1398.8,158.7 1402.0,192.8 1402.4,195.9 1402.7,196.6 1402.9,196.4 1403.5,192.6 1404.4,183.8 1408.0,137.7 1408.9,128.0 1409.6,122.0 1409.9,120.8 1410.1,120.6 1410.5,122.0 1412.9,138.8 1413.4,141.1 1413.7,141.7 1414.0,141.1 1414.3,139.2 1416.1,122.6 1416.5,120.9 1417.0,122.0" stroke="#ee3333" stroke-width="1.9"/>
</g>
<path d="M966.6,40.3H1417.0V239.3" fill="none" stroke="#777" stroke-width="1"/>
<path d="M966.6,40.3V239.3H1417.0" fill="none" stroke="#333" stroke-width="1"/>
<g stroke="#333" stroke-width="1">
<line x1="957.6" y1="226.3" x2="966.6" y2="226.3"/>
<line x1="957.6" y1="164.3" x2="966.6" y2="164.3"/>
<line x1="957.6" y1="102.3" x2="966.6" y2="102.3"/>
<line x1="957.6" y1="40.3" x2="966.6" y2="40.3"/>
<line x1="966.6" y1="239.3" x2="966.6" y2="247.8"/>
<line x1="991.6" y1="239.3" x2="991.6" y2="243.3"/>
<line x1="1016.6" y1="239.3" x2="1016.6" y2="247.8"/>
<line x1="1041.7" y1="239.3" x2="1041.7" y2="243.3"/>
<line x1="1066.7" y1="239.3" x2="1066.7" y2="247.8"/>
<line x1="1091.7" y1="239.3" x2="1091.7" y2="243.3"/>
<line x1="1116.7" y1="239.3" x2="1116.7" y2="247.8"/>
<line x1="1141.8" y1="239.3" x2="1141.8" y2="243.3"/>
<line x1="1166.8" y1="239.3" x2="1166.8" y2="247.8"/>
<line x1="1191.8" y1="239.3" x2="1191.8" y2="243.3"/>
<line x1="1216.8" y1="239.3" x2="1216.8" y2="247.8"/>
<line x1="1241.8" y1="239.3" x2="1241.8" y2="243.3"/>
<line x1="1266.9" y1="239.3" x2="1266.9" y2="247.8"/>
<line x1="1291.9" y1="239.3" x2="1291.9" y2="243.3"/>
<line x1="1316.9" y1="239.3" x2="1316.9" y2="247.8"/>
<line x1="1341.9" y1="239.3" x2="1341.9" y2="243.3"/>
<line x1="1367.0" y1="239.3" x2="1367.0" y2="247.8"/>
<line x1="1392.0" y1="239.3" x2="1392.0" y2="243.3"/>
<line x1="1417.0" y1="239.3" x2="1417.0" y2="247.8"/>
</g>
<text font-size="17.5" text-anchor="end" transform="translate(951.5 231.9) scale(1 1.085)">0</text>
<text font-size="17.5" text-anchor="end" transform="translate(951.5 169.9) scale(1 1.085)">10</text>
<text font-size="17.5" text-anchor="end" transform="translate(951.5 107.9) scale(1 1.085)">20</text>
<text font-size="17.5" text-anchor="end" transform="translate(951.5 45.9) scale(1 1.085)">30</text>
<text font-size="17.5" text-anchor="middle" transform="translate(966.6 268.4) scale(1 1.085)">0</text>
<text font-size="17.5" text-anchor="middle" transform="translate(1016.6 268.4) scale(1 1.085)">2</text>
<text font-size="17.5" text-anchor="middle" transform="translate(1066.7 268.4) scale(1 1.085)">4</text>
<text font-size="17.5" text-anchor="middle" transform="translate(1116.7 268.4) scale(1 1.085)">6</text>
<text font-size="17.5" text-anchor="middle" transform="translate(1166.8 268.4) scale(1 1.085)">8</text>
<text font-size="17.5" text-anchor="middle" transform="translate(1216.8 268.4) scale(1 1.085)">10</text>
<text font-size="17.5" text-anchor="middle" transform="translate(1266.9 268.4) scale(1 1.085)">12</text>
<text font-size="17.5" text-anchor="middle" transform="translate(1316.9 268.4) scale(1 1.085)">14</text>
<text font-size="17.5" text-anchor="middle" transform="translate(1367.0 268.4) scale(1 1.085)">16</text>
<text font-size="17.5" text-anchor="middle" transform="translate(1417.0 268.4) scale(1 1.085)">18</text>
<text x="1168" y="298.6" font-size="22">Λ<tspan font-size="14.8" dy="6.6">max</tspan><tspan dy="-6.6">t</tspan></text>
<text x="905" y="139.8" font-size="22" text-anchor="middle" transform="rotate(-90 905 139.8)">Absolute errors</text>
<line x1="1242" y1="52.3" x2="1281" y2="52.3" stroke="#0000ff" stroke-width="2.2"/>
<line x1="1242" y1="72.9" x2="1281" y2="72.9" stroke="#ee3333" stroke-width="2"/>
<text x="1285.5" y="57.7" font-size="16.6">The optimal analog</text>
<text x="1285.5" y="79" font-size="16.6">RC prediction</text>
<text x="890.4" y="301" font-size="24">(c)</text>
<defs><clipPath id="cpc"><rect x="967" y="318.6" width="450" height="197.2"/></clipPath></defs>
<g clip-path="url(#cpc)" fill="none" stroke-linejoin="round">
<path d="M966.6,510.4 967.4,504.4 968.5,498.0 969.6,495.5 972.2,492.2 973.0,489.8 974.9,480.6 976.0,476.5 978.6,469.7 979.7,467.6 981.3,465.4 984.3,462.4 985.8,461.3 988.8,459.4 990.6,457.6 992.5,455.4 996.7,449.8 1001.5,444.2 1004.9,439.9 1006.4,438.2 1010.6,434.7 1015.1,430.0 1019.9,426.1 1022.9,423.5 1024.8,421.5 1027.1,418.8 1031.2,413.2 1033.5,410.5 1038.3,405.7 1043.6,399.9 1050.0,393.6 1055.6,387.3 1063.5,377.4 1069.5,368.8 1071.8,366.2 1074.4,364.1 1079.7,361.4 1083.8,358.1 1087.2,356.1 1090.6,353.7 1092.1,352.9 1097.7,350.3 1099.6,349.9 1103.0,349.7 1104.5,349.5 1109.3,347.6 1111.2,347.2 1115.0,346.7 1119.1,345.0 1120.6,344.6 1125.5,344.4 1130.0,344.9 1131.9,344.8 1133.8,344.4 1137.9,343.0 1139.4,342.6 1141.3,342.6 1145.4,343.1 1146.9,343.0 1148.0,342.6 1151.8,341.0 1153.7,340.6 1160.8,341.2 1163.8,341.1 1169.4,340.6 1177.7,341.1 1179.2,340.9 1183.0,340.2 1189.4,340.0 1193.5,340.2 1197.2,339.7 1201.4,339.9 1205.5,339.4 1208.9,339.9 1210.0,339.9 1215.7,339.1 1219.4,337.9 1220.5,337.7 1225.4,338.5 1228.8,338.4 1232.6,338.6 1243.5,338.0 1248.3,338.1 1252.8,337.6 1257.7,337.9 1261.1,337.7 1265.2,338.1 1269.4,337.3 1275.0,336.9 1276.5,337.0 1279.1,337.9 1280.3,338.1 1284.8,337.4 1288.9,337.7 1293.4,337.5 1298.7,337.7 1303.6,336.8 1306.9,337.2 1310.7,337.2 1314.1,337.6 1315.6,337.4 1318.2,336.5 1319.7,336.1 1321.2,336.1 1325.0,336.4 1330.2,335.6 1335.1,335.8 1338.5,335.7 1343.4,336.2 1348.6,335.4 1352.4,335.6 1356.5,335.3 1360.7,335.8 1365.2,335.4 1370.0,336.0 1375.7,335.5 1380.9,336.3 1382.4,336.2 1385.4,335.6 1386.9,335.4 1391.1,336.2 1392.2,336.3 1396.3,335.8 1401.2,336.0 1406.5,335.4 1412.9,335.9 1414.4,335.7 1417.0,334.7" stroke="#0000ff" stroke-width="2.0"/>
<path d="M966.6,510.4 968.5,511.0 970.0,512.2 970.4,512.3 971.1,512.1 973.4,510.6 974.1,510.4 981.3,509.9 981.6,510.0 988.8,509.8 998.9,510.0 1027.5,511.0 1038.3,511.0 1045.1,510.9 1052.2,510.2 1067.3,507.9 1072.9,506.7 1078.2,505.1 1085.7,502.2 1093.2,498.7 1100.0,494.9 1106.7,490.5 1111.6,486.9 1116.5,483.1 1153.7,452.4 1160.4,447.5 1166.8,443.4 1170.6,441.3 1174.7,439.2 1179.2,437.2 1184.1,435.4 1190.5,433.1 1196.9,431.1 1202.1,429.7 1207.4,428.5 1214.2,427.3 1221.7,426.4 1229.9,425.6 1238.6,425.2 1291.9,423.8 1328.7,422.0 1357.6,420.9 1390.3,420.3 1417.0,420.0" stroke="#ee3333" stroke-width="1.8"/>
<line x1="1096.7" y1="351.1" x2="1096.7" y2="516.3" stroke="#0000ff" stroke-width="1.6" stroke-dasharray="7,4.5"/>
<line x1="1189.3" y1="433.5" x2="1189.3" y2="516.3" stroke="#ee3333" stroke-width="1.6" stroke-dasharray="7,4.5"/>
</g>
<path d="M966.6,318.1H1417.0V516.3" fill="none" stroke="#999" stroke-width="1.2"/>
<path d="M966.6,318.1V516.3H1417.0" fill="none" stroke="#333" stroke-width="1"/>
<g stroke="#333" stroke-width="1">
<line x1="957.6" y1="510.4" x2="966.6" y2="510.4"/>
<line x1="957.6" y1="446.3" x2="966.6" y2="446.3"/>
<line x1="957.6" y1="382.2" x2="966.6" y2="382.2"/>
<line x1="957.6" y1="318.1" x2="966.6" y2="318.1"/>
<line x1="966.6" y1="516.3" x2="966.6" y2="525.8"/>
<line x1="991.6" y1="516.3" x2="991.6" y2="520.8"/>
<line x1="1016.6" y1="516.3" x2="1016.6" y2="525.8"/>
<line x1="1041.7" y1="516.3" x2="1041.7" y2="520.8"/>
<line x1="1066.7" y1="516.3" x2="1066.7" y2="525.8"/>
<line x1="1091.7" y1="516.3" x2="1091.7" y2="520.8"/>
<line x1="1116.7" y1="516.3" x2="1116.7" y2="525.8"/>
<line x1="1141.8" y1="516.3" x2="1141.8" y2="520.8"/>
<line x1="1166.8" y1="516.3" x2="1166.8" y2="525.8"/>
<line x1="1191.8" y1="516.3" x2="1191.8" y2="520.8"/>
<line x1="1216.8" y1="516.3" x2="1216.8" y2="525.8"/>
<line x1="1241.8" y1="516.3" x2="1241.8" y2="520.8"/>
<line x1="1266.9" y1="516.3" x2="1266.9" y2="525.8"/>
<line x1="1291.9" y1="516.3" x2="1291.9" y2="520.8"/>
<line x1="1316.9" y1="516.3" x2="1316.9" y2="525.8"/>
<line x1="1341.9" y1="516.3" x2="1341.9" y2="520.8"/>
<line x1="1367.0" y1="516.3" x2="1367.0" y2="525.8"/>
<line x1="1392.0" y1="516.3" x2="1392.0" y2="520.8"/>
<line x1="1417.0" y1="516.3" x2="1417.0" y2="525.8"/>
</g>
<text font-size="17.5" text-anchor="end" transform="translate(951.2 517.1) scale(1 1.1)">10<tspan font-size="12.5" dy="-6.3">0</tspan></text>
<text font-size="17.5" text-anchor="end" transform="translate(951.2 453.0) scale(1 1.1)">10<tspan font-size="12.5" dy="-6.3">1</tspan></text>
<text font-size="17.5" text-anchor="end" transform="translate(951.2 388.9) scale(1 1.1)">10<tspan font-size="12.5" dy="-6.3">2</tspan></text>
<text font-size="17.5" text-anchor="end" transform="translate(951.2 324.8) scale(1 1.1)">10<tspan font-size="12.5" dy="-6.3">3</tspan></text>
<text font-size="17.5" text-anchor="middle" transform="translate(966.6 546.2) scale(1 1.085)">0</text>
<text font-size="17.5" text-anchor="middle" transform="translate(1016.6 546.2) scale(1 1.085)">2</text>
<text font-size="17.5" text-anchor="middle" transform="translate(1066.7 546.2) scale(1 1.085)">4</text>
<text font-size="17.5" text-anchor="middle" transform="translate(1116.7 546.2) scale(1 1.085)">6</text>
<text font-size="17.5" text-anchor="middle" transform="translate(1166.8 546.2) scale(1 1.085)">8</text>
<text font-size="17.5" text-anchor="middle" transform="translate(1216.8 546.2) scale(1 1.085)">10</text>
<text font-size="17.5" text-anchor="middle" transform="translate(1266.9 546.2) scale(1 1.085)">12</text>
<text font-size="17.5" text-anchor="middle" transform="translate(1316.9 546.2) scale(1 1.085)">14</text>
<text font-size="17.5" text-anchor="middle" transform="translate(1367.0 546.2) scale(1 1.085)">16</text>
<text font-size="17.5" text-anchor="middle" transform="translate(1417.0 546.2) scale(1 1.085)">18</text>
<text x="1168" y="580.8" font-size="22">Λ<tspan font-size="14.8" dy="6.6">max</tspan><tspan dy="-6.6">t</tspan></text>
<text x="912.6" y="417.5" font-size="20.8" text-anchor="middle" transform="rotate(-90 912.6 417.5)">Mean relative errors</text>
<line x1="1242" y1="477.1" x2="1281.5" y2="477.1" stroke="#0000ff" stroke-width="2.2"/>
<line x1="1242" y1="498.1" x2="1281.5" y2="498.1" stroke="#ee3333" stroke-width="2"/>
<text x="1286" y="483.1" font-size="16.6">The optimal analog</text>
<text x="1286" y="502.6" font-size="16.6">RC prediction</text>
</svg></body></html>
